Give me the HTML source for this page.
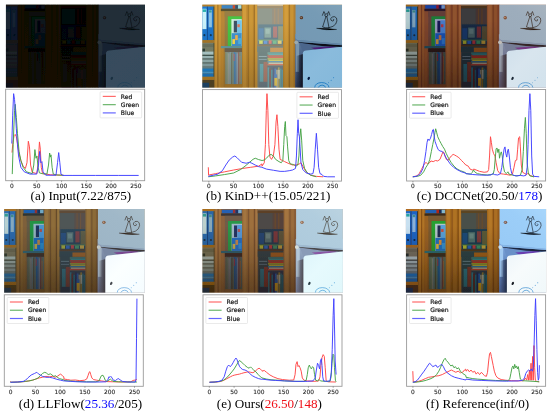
<!DOCTYPE html>
<html><head><meta charset="utf-8"><title>Histogram comparison</title>
<style>
html,body{margin:0;padding:0;background:#fff;}
body{width:550px;height:415px;overflow:hidden;position:relative;}
svg{position:absolute;left:0;top:0;}
.tk{font-family:"DejaVu Sans","Liberation Sans",sans-serif;font-size:5.9px;fill:#262626;stroke:#262626;stroke-width:0.12px;}
.lg{font-family:"DejaVu Sans","Liberation Sans",sans-serif;font-size:6.1px;fill:#202020;stroke:#202020;stroke-width:0.2px;}
.cap{font-family:"Liberation Serif","Times New Roman",serif;font-size:13.15px;fill:#000;}
</style></head><body>
<svg width="550" height="415" viewBox="0 0 550 415">
<defs>
<filter id="soft" x="-2%" y="-2%" width="104%" height="104%"><feGaussianBlur stdDeviation="0.6"/></filter>
<filter id="soft2" x="-5%" y="-5%" width="110%" height="110%"><feGaussianBlur stdDeviation="0.25"/></filter>

<clipPath id="cpa"><rect x="0" y="0" width="140" height="84"/></clipPath>
<clipPath id="cpb"><rect x="0" y="0" width="140" height="84"/></clipPath>
<clipPath id="cpc"><rect x="0" y="0" width="140" height="84"/></clipPath>
<clipPath id="cpd"><rect x="0" y="0" width="140" height="84"/></clipPath>
<clipPath id="cpe"><rect x="0" y="0" width="140" height="84"/></clipPath>
<clipPath id="cpf"><rect x="0" y="0" width="140" height="84"/></clipPath>
</defs>
<g transform="translate(5.8,4.4) scale(0.9943,0.9917)"><g clip-path="url(#cpa)"><g filter="url(#soft)">
<rect x="0" y="0" width="140" height="84" fill="#120b05"/>
<rect x="0" y="0" width="12.4" height="84" fill="#151a21"/>
<rect x="0" y="0" width="12.4" height="2.2" fill="#1a1919"/>
<rect x="0" y="2.2" width="5.2" height="34" fill="#07182e"/>
<rect x="5.6" y="2.2" width="5.8" height="34" fill="#07182e"/>
<rect x="4.7" y="2.2" width="1.0" height="34" fill="#051327"/>
<rect x="11.3" y="2.2" width="1.2" height="34" fill="#0a111a"/>
<rect x="0.2" y="4.4" width="4.0" height="20.5" fill="#1d2833"/>
<rect x="0.4" y="5" width="3.4" height="2.6" fill="#09202a"/>
<rect x="6.5" y="5.6" width="3.2" height="17.5" fill="#152230"/>
<rect x="6.8" y="6" width="2.6" height="2.2" fill="#0b1d28"/>
<circle cx="2.2" cy="31" r="1.05" fill="#05101e"/>
<circle cx="8.6" cy="31" r="1.05" fill="#05101e"/>
<rect x="0" y="36" width="12.4" height="2.8" fill="#191818"/>
<rect x="0" y="38.8" width="12.4" height="9" fill="#131a21"/>
<rect x="0" y="40" width="12.4" height="3" fill="#111820"/>
<rect x="0" y="44.6" width="2.8" height="6" fill="#09111a"/>
<rect x="0" y="47.6" width="11.6" height="3.2" fill="#1a242e"/>
<rect x="0" y="50.8" width="11.6" height="1.2" fill="#0b141e"/>
<rect x="0" y="52" width="11.6" height="2.4" fill="#19222d"/>
<rect x="0" y="54.4" width="11.6" height="1.4" fill="#0f1924"/>
<rect x="0" y="55.8" width="11.6" height="2.6" fill="#17212b"/>
<rect x="0" y="58.4" width="11.6" height="1.4" fill="#0f1924"/>
<rect x="0" y="59.8" width="11.6" height="2.6" fill="#161f2a"/>
<rect x="0" y="62.4" width="11.6" height="2.2" fill="#111b26"/>
<rect x="0" y="64.6" width="11.6" height="3.4" fill="#071a2f"/>
<rect x="0" y="68" width="11.6" height="1.6" fill="#0d1e30"/>
<rect x="0" y="69.6" width="11.6" height="3.4" fill="#07192e"/>
<rect x="0" y="73" width="12.4" height="3.2" fill="#1c1a18"/>
<rect x="0" y="76.2" width="12.4" height="7.8" fill="#0f1318"/>
<rect x="0" y="79" width="7" height="5" fill="#071323"/>
<rect x="11.4" y="38.8" width="1" height="34" fill="#0b1119"/>
<rect x="12.2" y="0" width="6.8" height="84" fill="#120b05"/>
<rect x="13.0" y="0" width="2.2" height="84" fill="#140d06"/>
<rect x="15.2" y="0" width="1.0" height="84" fill="#0e0804"/>
<rect x="16.6" y="0" width="2.2" height="84" fill="#130c06"/>
<rect x="18.7" y="0" width="4.2" height="84" fill="#110a06"/>
<rect x="18.7" y="42" width="2.6" height="42" fill="#120b05"/>
<rect x="22.5" y="0" width="17.3" height="84" fill="#0c0907"/>
<rect x="18.7" y="0" width="21.1" height="0.8" fill="#110a06"/>
<rect x="19.5" y="0.8" width="19.5" height="3.6" fill="#010a18"/>
<rect x="30.5" y="0.8" width="2.6" height="3.6" fill="#130304"/>
<rect x="33.1" y="0.8" width="2.6" height="3.6" fill="#00030b"/>
<rect x="35.8" y="0.8" width="3.2" height="3.6" fill="#0e151b"/>
<rect x="18.7" y="4.4" width="21.1" height="2.4" fill="#040304"/>
<rect x="22.5" y="6.8" width="17.3" height="5.4" fill="#0c0907"/>
<rect x="25.6" y="12" width="14.0" height="30" fill="#021207"/>
<rect x="29.2" y="14.8" width="10.4" height="27.2" fill="#14171b"/>
<rect x="31.6" y="16.5" width="3.2" height="11.8" fill="#01030b"/>
<rect x="34.8" y="16" width="4.8" height="14" fill="#08121d"/>
<rect x="35.2" y="20" width="2.4" height="3" fill="#170809"/>
<rect x="29.5" y="29" width="10" height="13" fill="#010c1a"/>
<rect x="33" y="31" width="2.6" height="5" fill="#191008"/>
<rect x="30.2" y="35" width="2.6" height="5" fill="#1a1508"/>
<rect x="36" y="34" width="3" height="6" fill="#03101c"/>
<rect x="18.7" y="42" width="21.1" height="2.2" fill="#010a0d"/>
<rect x="22.5" y="44.2" width="17.3" height="3.8" fill="#020202"/>
<rect x="23.3" y="48" width="16.6" height="32.5" fill="#06090a"/>
<rect x="23.3" y="48.0" width="1.39" height="32.5" fill="#070a08"/>
<rect x="24.69" y="48.7" width="1.39" height="31.8" fill="#080b09"/>
<rect x="26.080000000000002" y="49.4" width="1.39" height="31.1" fill="#0b0d0d"/>
<rect x="27.47" y="48.0" width="1.39" height="32.5" fill="#070c0d"/>
<rect x="28.86" y="48.7" width="1.39" height="31.8" fill="#050605"/>
<rect x="30.25" y="49.4" width="1.39" height="31.1" fill="#060b0a"/>
<rect x="31.64" y="48.0" width="1.39" height="32.5" fill="#000810"/>
<rect x="33.03" y="48.7" width="1.39" height="31.8" fill="#000811"/>
<rect x="34.42" y="49.4" width="1.39" height="31.1" fill="#090c0f"/>
<rect x="35.81" y="48.0" width="1.39" height="32.5" fill="#090405"/>
<rect x="37.2" y="48.7" width="1.39" height="31.8" fill="#070a07"/>
<rect x="38.59" y="49.4" width="1.39" height="31.1" fill="#050a0a"/>
<rect x="31.5" y="50" width="0.8" height="7" fill="#120204"/>
<rect x="37.4" y="52" width="0.7" height="26" fill="#100804"/>
<rect x="22.5" y="80.5" width="17.3" height="3.5" fill="#110a05"/>
<rect x="39.8" y="0" width="15.4" height="84" fill="#120b05"/>
<rect x="40.8" y="0" width="3.2" height="84" fill="#140d06"/>
<rect x="45.6" y="0" width="1.0" height="84" fill="#0e0804"/>
<rect x="47.2" y="0" width="3.4" height="84" fill="#130c06"/>
<rect x="51.6" y="0" width="1.0" height="84" fill="#0d0703"/>
<rect x="53" y="0" width="2.2" height="84" fill="#140d07"/>
<rect x="55.2" y="0" width="25.8" height="84" fill="#050707"/>
<rect x="55.2" y="0" width="25.8" height="1.6" fill="#0f0d08"/>
<rect x="55.2" y="1.6" width="25.8" height="2.6" fill="#070502"/>
<rect x="56" y="4.2" width="25" height="16" fill="#050707"/>
<rect x="70" y="4.2" width="11" height="16" fill="#060605"/>
<rect x="72" y="4.2" width="1.2" height="16" fill="#090603"/>
<rect x="75.5" y="4.2" width="1.2" height="16" fill="#090603"/>
<rect x="56" y="20.2" width="25" height="21.8" fill="#000408"/>
<rect x="62.3" y="23.3" width="6.6" height="10.2" fill="#060b0b"/>
<rect x="63.4" y="24.6" width="4.2" height="5" fill="#080e0e"/>
<rect x="70.9" y="22.3" width="4.2" height="11.2" fill="#0b0405"/>
<rect x="76" y="22" width="5" height="14" fill="#070805"/>
<rect x="56.5" y="24" width="5" height="11" fill="#00060d"/>
<rect x="56" y="35.4" width="25" height="1.6" fill="#030a07"/>
<rect x="57" y="36.4" width="3.6" height="3.4" fill="#111304"/>
<rect x="61.6" y="36.6" width="3.6" height="3.2" fill="#010914"/>
<rect x="66.5" y="36.2" width="3" height="3.6" fill="#120405"/>
<rect x="70.5" y="36.6" width="4" height="3.2" fill="#030f09"/>
<rect x="75.5" y="36.4" width="4" height="3.4" fill="#131105"/>
<rect x="55.2" y="40.4" width="25.8" height="2" fill="#060402"/>
<rect x="55.2" y="42.4" width="25.8" height="5.6" fill="#010507"/>
<rect x="68" y="43.6" width="13" height="4.4" fill="#100901"/>
<rect x="56" y="48" width="9.4" height="36" fill="#010507"/>
<rect x="56.6" y="52" width="8" height="0.9" fill="#090e10"/>
<rect x="56.6" y="55" width="8" height="0.9" fill="#070d0f"/>
<rect x="57.6" y="60" width="3.8" height="22" fill="#010c0f"/>
<rect x="61.4" y="58" width="4.2" height="24" fill="#0b0404"/>
<rect x="56.5" y="78" width="9" height="6" fill="#000407"/>
<rect x="65.4" y="48" width="15.6" height="14" fill="#050808"/>
<rect x="65.4" y="48.6" width="15.6" height="1.15" fill="#010d0e"/>
<rect x="66.4" y="50.050000000000004" width="14.6" height="1.15" fill="#010e0f"/>
<rect x="65.4" y="51.5" width="15.6" height="1.15" fill="#140302"/>
<rect x="66.4" y="52.95" width="14.6" height="1.15" fill="#130302"/>
<rect x="65.4" y="54.4" width="15.6" height="1.15" fill="#111202"/>
<rect x="66.4" y="55.85" width="14.6" height="1.15" fill="#131304"/>
<rect x="65.4" y="57.3" width="15.6" height="1.15" fill="#010c13"/>
<rect x="66.4" y="58.75" width="14.6" height="1.15" fill="#151511"/>
<rect x="65.4" y="60.2" width="15.6" height="1.15" fill="#140504"/>
<rect x="65.4" y="62" width="15.6" height="22" fill="#010407"/>
<rect x="65.4" y="63.5" width="1.73" height="20.5" fill="#010c0f"/>
<rect x="67.13000000000001" y="64.7" width="1.73" height="19.3" fill="#070203"/>
<rect x="68.86" y="65.9" width="1.73" height="18.1" fill="#000a0e"/>
<rect x="70.59" y="63.5" width="1.73" height="20.5" fill="#000209"/>
<rect x="72.32000000000001" y="64.7" width="1.73" height="19.3" fill="#000813"/>
<rect x="74.05000000000001" y="65.9" width="1.73" height="18.1" fill="#0d0f0e"/>
<rect x="75.78" y="63.5" width="1.73" height="20.5" fill="#0d0c04"/>
<rect x="77.51" y="64.7" width="1.73" height="19.3" fill="#010a0c"/>
<rect x="79.24000000000001" y="65.9" width="1.73" height="18.1" fill="#000a0d"/>
<rect x="72.2" y="74" width="2.8" height="8" fill="#171200"/>
<rect x="72.2" y="70.5" width="2.8" height="3.5" fill="#000813"/>
<rect x="76" y="66" width="1.6" height="9" fill="#111312"/>
<rect x="81" y="0" width="12.8" height="84" fill="#120b05"/>
<rect x="82.2" y="0" width="3.6" height="84" fill="#140d06"/>
<rect x="86.8" y="0" width="1.0" height="84" fill="#0e0804"/>
<rect x="88.4" y="0" width="2.6" height="84" fill="#130c05"/>
<rect x="91.6" y="0" width="2.2" height="84" fill="#100904"/>
<linearGradient id="gavs" x1="0" y1="0" x2="0" y2="1"><stop offset="0" stop-color="#1a0c02" stop-opacity="0"/><stop offset="0.2" stop-color="#1a0c02" stop-opacity="0"/><stop offset="0.6" stop-color="#1a0c02" stop-opacity="0.190"/><stop offset="0.9" stop-color="#1a0c02" stop-opacity="0.400"/><stop offset="1" stop-color="#1a0c02" stop-opacity="0.460"/></linearGradient>
<rect x="0" y="0" width="93.6" height="84" fill="url(#gavs)"/>
<linearGradient id="gact" x1="0" y1="1" x2="1" y2="0"><stop offset="0" stop-color="#202d39"/><stop offset="0.6" stop-color="#212e39"/><stop offset="1" stop-color="#23303a"/></linearGradient>
<linearGradient id="gacs" x1="0" y1="0" x2="0" y2="1"><stop offset="0" stop-color="#1d2936"/><stop offset="0.35" stop-color="#172230"/><stop offset="0.7" stop-color="#141e2b"/><stop offset="1" stop-color="#111825"/></linearGradient>
<linearGradient id="gacd" x1="0" y1="0" x2="1" y2="0.15"><stop offset="0" stop-color="#0b111a" stop-opacity="0"/><stop offset="0.45" stop-color="#0b111a" stop-opacity="0.55"/><stop offset="1" stop-color="#090e17" stop-opacity="1"/></linearGradient>
<rect x="93" y="30" width="47" height="54" fill="url(#gacs)"/>
<rect x="93.6" y="38" width="3.4" height="30" fill="#222d37"/>
<path d="M97,38 L140,41 L140,46 L101,49 Z" fill="#172230"/>
<path d="M109,43.6 L132,41.9 L134,43.4 L113,45.6 Z" fill="#17122b"/>
<path d="M96.5,37.9 L140,41.2 L140,42.9 L120,41.9 L96.5,38.5 Z" fill="#080e15"/>
<path d="M94,52 L101,50 L101,84 L94,84 Z" fill="url(#gacd)"/>
<path d="M93.4,0 L140,0 L140,40 L97,36 Q93.4,35.6 93.4,33 Z" fill="url(#gact)"/>
<path d="M96,35.9 L140,39.9 L140,41.2 L97,38 Z" fill="#1d2935"/>
<circle cx="94.1" cy="38.2" r="1.9" fill="#2a3237"/>
<circle cx="99.3" cy="13.4" r="1.7" fill="#1a1718"/>
<circle cx="99.0" cy="13.2" r="0.7" fill="#2a2a2b"/>
<g fill="none" stroke="#060a0e" stroke-width="0.6" stroke-linecap="round" stroke-linejoin="round"><path d="M120.3,11 L121.8,7.2 L123.2,10 L124.2,9.4 L125.2,10 L126.5,7.2 L127.8,10.8"/><path d="M122.6,10.4 Q122.2,12.2 124.2,12.4 Q126,12.2 125.8,10.4"/><path d="M123.8,12.4 L120.5,22.8 Q123.6,24 126.9,23.5 L124.8,12.4"/><path d="M126.9,23.5 Q131.6,22.6 133.6,19.8 Q135.6,16.4 134.4,13.8 Q132.8,11.6 130.2,12.6 Q128,14 128.8,15.8 Q130,17.4 131.4,16.4 Q132.2,15.4 131.2,14.8"/></g>
<path d="M114.4,24.1 Q124,23.7 134.6,25.3 Q124,26.5 114.4,24.1 Z" fill="#060a0e" stroke="#060a0e" stroke-width="0.3"/>
<linearGradient id="gacl" x1="0" y1="0" x2="1" y2="1"><stop offset="0" stop-color="#364b5d"/><stop offset="0.4" stop-color="#374c5d"/><stop offset="1" stop-color="#364c5d"/></linearGradient>
<path d="M104,46.6 L140,42.7 L140,84 L100.7,84 L100.7,50 Q100.7,47 104,46.6 Z" fill="url(#gacl)"/>
<ellipse cx="106.6" cy="74.6" rx="1.1" ry="1.7" fill="#1a2f41" transform="rotate(28 106.6 74.6)"/>
<g fill="none" stroke="#1f3e58" stroke-width="0.7"><path d="M112.5,84 Q113,79 119.5,78.8 Q126,79 127,84"/><path d="M116,84 Q117,81.4 120,81.4 Q123,81.6 123.6,84"/></g>
<circle cx="131.5" cy="74" r="0.5" fill="#1f3e58"/><circle cx="129" cy="76.5" r="0.5" fill="#1f3e58"/><circle cx="126.5" cy="79" r="0.45" fill="#1f3e58"/>
</g></g></g>
<g transform="translate(202.2,4.4) scale(0.9993,0.9917)"><g clip-path="url(#cpb)"><g filter="url(#soft)">
<rect x="0" y="0" width="140" height="84" fill="#c38e33"/>
<rect x="0" y="0" width="12.4" height="84" fill="#8c886a"/>
<rect x="0" y="0" width="12.4" height="2.2" fill="#b27e2c"/>
<rect x="0" y="2.2" width="5.2" height="34" fill="#1e7ad2"/>
<rect x="5.6" y="2.2" width="5.8" height="34" fill="#1e76ce"/>
<rect x="4.7" y="2.2" width="1.0" height="34" fill="#0e4e9a"/>
<rect x="11.3" y="2.2" width="1.2" height="34" fill="#324238"/>
<rect x="0.2" y="4.4" width="4.0" height="20.5" fill="#caf2fa"/>
<rect x="0.4" y="5" width="3.4" height="2.6" fill="#2ab2ae"/>
<rect x="6.5" y="5.6" width="3.2" height="17.5" fill="#8cc2e2"/>
<rect x="6.8" y="6" width="2.6" height="2.2" fill="#3c9ca2"/>
<circle cx="2.2" cy="31" r="1.05" fill="#123854"/>
<circle cx="8.6" cy="31" r="1.05" fill="#123854"/>
<rect x="0" y="36" width="12.4" height="2.8" fill="#aa7a2a"/>
<rect x="0" y="38.8" width="12.4" height="9" fill="#7a846e"/>
<rect x="0" y="40" width="12.4" height="3" fill="#6c7662"/>
<rect x="0" y="44.6" width="2.8" height="6" fill="#2c423a"/>
<rect x="0" y="47.6" width="11.6" height="3.2" fill="#b2d2d2"/>
<rect x="0" y="50.8" width="11.6" height="1.2" fill="#3c5652"/>
<rect x="0" y="52" width="11.6" height="2.4" fill="#a6c6c6"/>
<rect x="0" y="54.4" width="11.6" height="1.4" fill="#5c7c82"/>
<rect x="0" y="55.8" width="11.6" height="2.6" fill="#9ababa"/>
<rect x="0" y="58.4" width="11.6" height="1.4" fill="#5c7c82"/>
<rect x="0" y="59.8" width="11.6" height="2.6" fill="#8eaeb2"/>
<rect x="0" y="62.4" width="11.6" height="2.2" fill="#6c8e96"/>
<rect x="0" y="64.6" width="11.6" height="3.4" fill="#1e8ada"/>
<rect x="0" y="68" width="11.6" height="1.6" fill="#4caae2"/>
<rect x="0" y="69.6" width="11.6" height="3.4" fill="#1e82d2"/>
<rect x="0" y="73" width="12.4" height="3.2" fill="#c28a2a"/>
<rect x="0" y="76.2" width="12.4" height="7.8" fill="#5c4e2a"/>
<rect x="0" y="79" width="7" height="5" fill="#1e4e7a"/>
<rect x="11.4" y="38.8" width="1" height="34" fill="#3c422e"/>
<rect x="12.2" y="0" width="6.8" height="84" fill="#c38e33"/>
<rect x="13.0" y="0" width="2.2" height="84" fill="#d69f3e"/>
<rect x="15.2" y="0" width="1.0" height="84" fill="#a6772c"/>
<rect x="16.6" y="0" width="2.2" height="84" fill="#ce993a"/>
<rect x="18.7" y="0" width="4.2" height="84" fill="#b88738"/>
<rect x="18.7" y="42" width="2.6" height="42" fill="#c68f34"/>
<rect x="22.5" y="0" width="17.3" height="84" fill="#987f44"/>
<rect x="18.7" y="0" width="21.1" height="0.8" fill="#b8893a"/>
<rect x="19.5" y="0.8" width="19.5" height="3.6" fill="#3e85c4"/>
<rect x="30.5" y="0.8" width="2.6" height="3.6" fill="#ce4d2c"/>
<rect x="33.1" y="0.8" width="2.6" height="3.6" fill="#3a5164"/>
<rect x="35.8" y="0.8" width="3.2" height="3.6" fill="#a6dddc"/>
<rect x="18.7" y="4.4" width="21.1" height="2.4" fill="#585130"/>
<rect x="22.5" y="6.8" width="17.3" height="5.4" fill="#987f44"/>
<rect x="25.6" y="12" width="14.0" height="30" fill="#46c544"/>
<rect x="29.2" y="14.8" width="10.4" height="27.2" fill="#d2ebdc"/>
<rect x="31.6" y="16.5" width="3.2" height="11.8" fill="#3e5164"/>
<rect x="34.8" y="16" width="4.8" height="14" fill="#76c5ec"/>
<rect x="35.2" y="20" width="2.4" height="3" fill="#e67554"/>
<rect x="29.5" y="29" width="10" height="13" fill="#4295d4"/>
<rect x="33" y="31" width="2.6" height="5" fill="#f6b54c"/>
<rect x="30.2" y="35" width="2.6" height="5" fill="#fedd4c"/>
<rect x="36" y="34" width="3" height="6" fill="#52b7e4"/>
<rect x="18.7" y="42" width="21.1" height="2.2" fill="#629da4"/>
<rect x="22.5" y="44.2" width="17.3" height="3.8" fill="#6f6758"/>
<rect x="23.3" y="48" width="16.6" height="32.5" fill="#879691"/>
<rect x="23.3" y="48.0" width="1.39" height="32.5" fill="#8c9d84"/>
<rect x="24.69" y="48.7" width="1.39" height="31.8" fill="#93a48c"/>
<rect x="26.080000000000002" y="49.4" width="1.39" height="31.1" fill="#a8afa8"/>
<rect x="27.47" y="48.0" width="1.39" height="32.5" fill="#8caaa8"/>
<rect x="28.86" y="48.7" width="1.39" height="31.8" fill="#7d846e"/>
<rect x="30.25" y="49.4" width="1.39" height="31.1" fill="#88a18e"/>
<rect x="31.64" y="48.0" width="1.39" height="32.5" fill="#548dbd"/>
<rect x="33.03" y="48.7" width="1.39" height="31.8" fill="#5b91c1"/>
<rect x="34.42" y="49.4" width="1.39" height="31.1" fill="#9aaab6"/>
<rect x="35.81" y="48.0" width="1.39" height="32.5" fill="#9a766e"/>
<rect x="37.2" y="48.7" width="1.39" height="31.8" fill="#8c9a7c"/>
<rect x="38.59" y="49.4" width="1.39" height="31.1" fill="#819b92"/>
<rect x="31.5" y="50" width="0.8" height="7" fill="#d96767"/>
<rect x="37.4" y="52" width="0.7" height="26" fill="#ca9267"/>
<rect x="22.5" y="80.5" width="17.3" height="3.5" fill="#be8932"/>
<rect x="39.8" y="0" width="15.4" height="84" fill="#c38e33"/>
<rect x="40.8" y="0" width="3.2" height="84" fill="#d29d3c"/>
<rect x="45.6" y="0" width="1.0" height="84" fill="#a4752c"/>
<rect x="47.2" y="0" width="3.4" height="84" fill="#cc9738"/>
<rect x="51.6" y="0" width="1.0" height="84" fill="#9a6d26"/>
<rect x="53" y="0" width="2.2" height="84" fill="#d49f40"/>
<rect x="55.2" y="0" width="25.8" height="84" fill="#929a90"/>
<rect x="55.2" y="0" width="25.8" height="1.6" fill="#d4bf97"/>
<rect x="55.2" y="1.6" width="25.8" height="2.6" fill="#a29274"/>
<rect x="56" y="4.2" width="25" height="16" fill="#949c90"/>
<rect x="70" y="4.2" width="11" height="16" fill="#9c9685"/>
<rect x="72" y="4.2" width="1.2" height="16" fill="#ae997a"/>
<rect x="75.5" y="4.2" width="1.2" height="16" fill="#ae997a"/>
<rect x="56" y="20.2" width="25" height="21.8" fill="#718c95"/>
<rect x="62.3" y="23.3" width="6.6" height="10.2" fill="#97b4ac"/>
<rect x="63.4" y="24.6" width="4.2" height="5" fill="#a9c6bc"/>
<rect x="70.9" y="22.3" width="4.2" height="11.2" fill="#ba8a85"/>
<rect x="76" y="22" width="5" height="14" fill="#a1a484"/>
<rect x="56.5" y="24" width="5" height="11" fill="#6f97b7"/>
<rect x="56" y="35.4" width="25" height="1.6" fill="#87b194"/>
<rect x="57" y="36.4" width="3.6" height="3.4" fill="#dfe97d"/>
<rect x="61.6" y="36.6" width="3.6" height="3.2" fill="#7aa9e4"/>
<rect x="66.5" y="36.2" width="3" height="3.6" fill="#e68c87"/>
<rect x="70.5" y="36.6" width="4" height="3.2" fill="#87caa0"/>
<rect x="75.5" y="36.4" width="4" height="3.4" fill="#ecd984"/>
<rect x="55.2" y="40.4" width="25.8" height="2" fill="#978c72"/>
<rect x="55.2" y="42.4" width="25.8" height="5.6" fill="#7c9290"/>
<rect x="68" y="43.6" width="13" height="4.4" fill="#d9a96d"/>
<rect x="56" y="48" width="9.4" height="36" fill="#7c9290"/>
<rect x="56.6" y="52" width="8" height="0.9" fill="#aec9ca"/>
<rect x="56.6" y="55" width="8" height="0.9" fill="#a1bfc4"/>
<rect x="57.6" y="60" width="3.8" height="22" fill="#7abcc4"/>
<rect x="61.4" y="58" width="4.2" height="24" fill="#ba8c7d"/>
<rect x="56.5" y="78" width="9" height="6" fill="#768994"/>
<rect x="65.4" y="48" width="15.6" height="14" fill="#94a497"/>
<rect x="65.4" y="48.6" width="15.6" height="1.15" fill="#7ac2bd"/>
<rect x="66.4" y="50.050000000000004" width="14.6" height="1.15" fill="#7ec6c0"/>
<rect x="65.4" y="51.5" width="15.6" height="1.15" fill="#f28270"/>
<rect x="66.4" y="52.95" width="14.6" height="1.15" fill="#e98674"/>
<rect x="65.4" y="54.4" width="15.6" height="1.15" fill="#dfe270"/>
<rect x="66.4" y="55.85" width="14.6" height="1.15" fill="#ece97d"/>
<rect x="65.4" y="57.3" width="15.6" height="1.15" fill="#7abcdd"/>
<rect x="66.4" y="58.75" width="14.6" height="1.15" fill="#f9efd0"/>
<rect x="65.4" y="60.2" width="15.6" height="1.15" fill="#f28f7d"/>
<rect x="65.4" y="62" width="15.6" height="22" fill="#7c8c94"/>
<rect x="65.4" y="63.5" width="1.73" height="20.5" fill="#7abcc4"/>
<rect x="67.13000000000001" y="64.7" width="1.73" height="19.3" fill="#a17f77"/>
<rect x="68.86" y="65.9" width="1.73" height="18.1" fill="#6fb1bd"/>
<rect x="70.59" y="63.5" width="1.73" height="20.5" fill="#6f7fa0"/>
<rect x="72.32000000000001" y="64.7" width="1.73" height="19.3" fill="#72a2dd"/>
<rect x="74.05000000000001" y="65.9" width="1.73" height="18.1" fill="#c7cfbd"/>
<rect x="75.78" y="63.5" width="1.73" height="20.5" fill="#c7be7d"/>
<rect x="77.51" y="64.7" width="1.73" height="19.3" fill="#7ab1b0"/>
<rect x="79.24000000000001" y="65.9" width="1.73" height="18.1" fill="#6facb7"/>
<rect x="72.2" y="74" width="2.8" height="8" fill="#ffe26a"/>
<rect x="72.2" y="70.5" width="2.8" height="3.5" fill="#72a2dd"/>
<rect x="76" y="66" width="1.6" height="9" fill="#dfe9d7"/>
<rect x="81" y="0" width="12.8" height="84" fill="#c38e33"/>
<rect x="82.2" y="0" width="3.6" height="84" fill="#d39d3c"/>
<rect x="86.8" y="0" width="1.0" height="84" fill="#a4752c"/>
<rect x="88.4" y="0" width="2.6" height="84" fill="#c89336"/>
<rect x="91.6" y="0" width="2.2" height="84" fill="#b27f30"/>
<linearGradient id="gbvs" x1="0" y1="0" x2="0" y2="1"><stop offset="0" stop-color="#1a0c02" stop-opacity="0"/><stop offset="0.2" stop-color="#1a0c02" stop-opacity="0"/><stop offset="0.6" stop-color="#1a0c02" stop-opacity="0.095"/><stop offset="0.9" stop-color="#1a0c02" stop-opacity="0.200"/><stop offset="1" stop-color="#1a0c02" stop-opacity="0.230"/></linearGradient>
<rect x="0" y="0" width="93.6" height="84" fill="url(#gbvs)"/>
<linearGradient id="gbct" x1="0" y1="1" x2="1" y2="0"><stop offset="0" stop-color="#7398b3"/><stop offset="0.6" stop-color="#769bb5"/><stop offset="1" stop-color="#80a2b8"/></linearGradient>
<linearGradient id="gbcs" x1="0" y1="0" x2="0" y2="1"><stop offset="0" stop-color="#6785a7"/><stop offset="0.35" stop-color="#4c668c"/><stop offset="0.7" stop-color="#3e5478"/><stop offset="1" stop-color="#2f3c5d"/></linearGradient>
<linearGradient id="gbcd" x1="0" y1="0" x2="1" y2="0.15"><stop offset="0" stop-color="#171d2d" stop-opacity="0"/><stop offset="0.45" stop-color="#171d2d" stop-opacity="0.55"/><stop offset="1" stop-color="#0d111f" stop-opacity="1"/></linearGradient>
<rect x="93" y="30" width="47" height="54" fill="url(#gbcs)"/>
<rect x="93.6" y="38" width="3.4" height="30" fill="#7996ae"/>
<path d="M97,38 L140,41 L140,46 L101,49 Z" fill="#4c668c"/>
<path d="M109,43.6 L132,41.9 L134,43.4 L113,45.6 Z" fill="#4c1f78"/>
<path d="M96.5,37.9 L140,41.2 L140,42.9 L120,41.9 L96.5,38.5 Z" fill="#090e19"/>
<path d="M94,52 L101,50 L101,84 L94,84 Z" fill="url(#gbcd)"/>
<path d="M93.4,0 L140,0 L140,40 L97,36 Q93.4,35.6 93.4,33 Z" fill="url(#gbct)"/>
<path d="M96,35.9 L140,39.9 L140,41.2 L97,38 Z" fill="#6387a6"/>
<circle cx="94.1" cy="38.2" r="1.9" fill="#9baaae"/>
<circle cx="99.3" cy="13.4" r="1.7" fill="#593826"/>
<circle cx="99.0" cy="13.2" r="0.7" fill="#9b8878"/>
<g fill="none" stroke="#000000" stroke-width="0.6" stroke-linecap="round" stroke-linejoin="round"><path d="M120.3,11 L121.8,7.2 L123.2,10 L124.2,9.4 L125.2,10 L126.5,7.2 L127.8,10.8"/><path d="M122.6,10.4 Q122.2,12.2 124.2,12.4 Q126,12.2 125.8,10.4"/><path d="M123.8,12.4 L120.5,22.8 Q123.6,24 126.9,23.5 L124.8,12.4"/><path d="M126.9,23.5 Q131.6,22.6 133.6,19.8 Q135.6,16.4 134.4,13.8 Q132.8,11.6 130.2,12.6 Q128,14 128.8,15.8 Q130,17.4 131.4,16.4 Q132.2,15.4 131.2,14.8"/></g>
<path d="M114.4,24.1 Q124,23.7 134.6,25.3 Q124,26.5 114.4,24.1 Z" fill="#000000" stroke="#000000" stroke-width="0.3"/>
<linearGradient id="gbcl" x1="0" y1="0" x2="1" y2="1"><stop offset="0" stop-color="#83b6da"/><stop offset="0.4" stop-color="#8abbdc"/><stop offset="1" stop-color="#84b8da"/></linearGradient>
<path d="M104,46.6 L140,42.7 L140,84 L100.7,84 L100.7,50 Q100.7,47 104,46.6 Z" fill="url(#gbcl)"/>
<ellipse cx="106.6" cy="74.6" rx="1.1" ry="1.7" fill="#00143a" transform="rotate(28 106.6 74.6)"/>
<g fill="none" stroke="#0068ba" stroke-width="0.7"><path d="M112.5,84 Q113,79 119.5,78.8 Q126,79 127,84"/><path d="M116,84 Q117,81.4 120,81.4 Q123,81.6 123.6,84"/></g>
<circle cx="131.5" cy="74" r="0.5" fill="#0068ba"/><circle cx="129" cy="76.5" r="0.5" fill="#0068ba"/><circle cx="126.5" cy="79" r="0.45" fill="#0068ba"/>
</g></g></g>
<g transform="translate(405.7,4.4) scale(1.0021,0.9929)"><g clip-path="url(#cpc)"><g filter="url(#soft)">
<rect x="0" y="0" width="140" height="84" fill="#874b29"/>
<rect x="0" y="0" width="12.4" height="84" fill="#7c6e51"/>
<rect x="0" y="0" width="12.4" height="2.2" fill="#9c651d"/>
<rect x="0" y="2.2" width="5.2" height="34" fill="#1e62aa"/>
<rect x="5.6" y="2.2" width="5.8" height="34" fill="#1e5ea6"/>
<rect x="4.7" y="2.2" width="1.0" height="34" fill="#103c7a"/>
<rect x="11.3" y="2.2" width="1.2" height="34" fill="#2f3227"/>
<rect x="0.2" y="4.4" width="4.0" height="20.5" fill="#b0c8cc"/>
<rect x="0.4" y="5" width="3.4" height="2.6" fill="#28918b"/>
<rect x="6.5" y="5.6" width="3.2" height="17.5" fill="#7c9fb7"/>
<rect x="6.8" y="6" width="2.6" height="2.2" fill="#387f81"/>
<circle cx="2.2" cy="31" r="1.05" fill="#142a3f"/>
<circle cx="8.6" cy="31" r="1.05" fill="#142a3f"/>
<rect x="0" y="36" width="12.4" height="2.8" fill="#95621b"/>
<rect x="0" y="38.8" width="12.4" height="9" fill="#6c6a55"/>
<rect x="0" y="40" width="12.4" height="3" fill="#605e4a"/>
<rect x="0" y="44.6" width="2.8" height="6" fill="#2a3228"/>
<rect x="0" y="47.6" width="11.6" height="3.2" fill="#9cacaa"/>
<rect x="0" y="50.8" width="11.6" height="1.2" fill="#38433d"/>
<rect x="0" y="52" width="11.6" height="2.4" fill="#92a2a0"/>
<rect x="0" y="54.4" width="11.6" height="1.4" fill="#536366"/>
<rect x="0" y="55.8" width="11.6" height="2.6" fill="#879895"/>
<rect x="0" y="58.4" width="11.6" height="1.4" fill="#536366"/>
<rect x="0" y="59.8" width="11.6" height="2.6" fill="#7d8e8e"/>
<rect x="0" y="62.4" width="11.6" height="2.2" fill="#607377"/>
<rect x="0" y="64.6" width="11.6" height="3.4" fill="#1e6fb0"/>
<rect x="0" y="68" width="11.6" height="1.6" fill="#458ab7"/>
<rect x="0" y="69.6" width="11.6" height="3.4" fill="#1e68aa"/>
<rect x="0" y="73" width="12.4" height="3.2" fill="#a96f1b"/>
<rect x="0" y="76.2" width="12.4" height="7.8" fill="#533c1b"/>
<rect x="0" y="79" width="7" height="5" fill="#1e3c5f"/>
<rect x="11.4" y="38.8" width="1" height="34" fill="#38321e"/>
<rect x="12.2" y="0" width="6.8" height="84" fill="#874b29"/>
<rect x="13.0" y="0" width="2.2" height="84" fill="#975932"/>
<rect x="15.2" y="0" width="1.0" height="84" fill="#6e3723"/>
<rect x="16.6" y="0" width="2.2" height="84" fill="#90542f"/>
<rect x="18.7" y="0" width="4.2" height="84" fill="#7e452d"/>
<rect x="18.7" y="42" width="2.6" height="42" fill="#8a4c2a"/>
<rect x="22.5" y="0" width="17.3" height="84" fill="#623e38"/>
<rect x="18.7" y="0" width="21.1" height="0.8" fill="#7e472f"/>
<rect x="19.5" y="0.8" width="19.5" height="3.6" fill="#1643a4"/>
<rect x="30.5" y="0.8" width="2.6" height="3.6" fill="#901423"/>
<rect x="33.1" y="0.8" width="2.6" height="3.6" fill="#131753"/>
<rect x="35.8" y="0.8" width="3.2" height="3.6" fill="#6e8eb9"/>
<rect x="18.7" y="4.4" width="21.1" height="2.4" fill="#2c1727"/>
<rect x="22.5" y="6.8" width="17.3" height="5.4" fill="#623e38"/>
<rect x="25.6" y="12" width="14.0" height="30" fill="#1d7a38"/>
<rect x="29.2" y="14.8" width="10.4" height="27.2" fill="#949ab9"/>
<rect x="31.6" y="16.5" width="3.2" height="11.8" fill="#161753"/>
<rect x="34.8" y="16" width="4.8" height="14" fill="#467ac6"/>
<rect x="35.2" y="20" width="2.4" height="3" fill="#a53645"/>
<rect x="29.5" y="29" width="10" height="13" fill="#1951b2"/>
<rect x="33" y="31" width="2.6" height="5" fill="#b26c3e"/>
<rect x="30.2" y="35" width="2.6" height="5" fill="#b98e3e"/>
<rect x="36" y="34" width="3" height="6" fill="#276ec0"/>
<rect x="18.7" y="42" width="21.1" height="2.2" fill="#1b4b5e"/>
<rect x="22.5" y="44.2" width="17.3" height="3.8" fill="#271816"/>
<rect x="23.3" y="48" width="16.6" height="32.5" fill="#3e444c"/>
<rect x="23.3" y="48.0" width="1.39" height="32.5" fill="#424b3f"/>
<rect x="24.69" y="48.7" width="1.39" height="31.8" fill="#495248"/>
<rect x="26.080000000000002" y="49.4" width="1.39" height="31.1" fill="#5d5c61"/>
<rect x="27.47" y="48.0" width="1.39" height="32.5" fill="#425761"/>
<rect x="28.86" y="48.7" width="1.39" height="31.8" fill="#35332b"/>
<rect x="30.25" y="49.4" width="1.39" height="31.1" fill="#3f4e49"/>
<rect x="31.64" y="48.0" width="1.39" height="32.5" fill="#0e3c76"/>
<rect x="33.03" y="48.7" width="1.39" height="31.8" fill="#143f79"/>
<rect x="34.42" y="49.4" width="1.39" height="31.1" fill="#50576f"/>
<rect x="35.81" y="48.0" width="1.39" height="32.5" fill="#50252b"/>
<rect x="37.2" y="48.7" width="1.39" height="31.8" fill="#424738"/>
<rect x="38.59" y="49.4" width="1.39" height="31.1" fill="#38494d"/>
<rect x="31.5" y="50" width="0.8" height="7" fill="#8b1824"/>
<rect x="37.4" y="52" width="0.7" height="26" fill="#7e4124"/>
<rect x="22.5" y="80.5" width="17.3" height="3.5" fill="#834728"/>
<rect x="39.8" y="0" width="15.4" height="84" fill="#874b29"/>
<rect x="40.8" y="0" width="3.2" height="84" fill="#945831"/>
<rect x="45.6" y="0" width="1.0" height="84" fill="#6d3623"/>
<rect x="47.2" y="0" width="3.4" height="84" fill="#8f532d"/>
<rect x="51.6" y="0" width="1.0" height="84" fill="#642f1e"/>
<rect x="53" y="0" width="2.2" height="84" fill="#955934"/>
<rect x="55.2" y="0" width="25.8" height="84" fill="#38383c"/>
<rect x="55.2" y="0" width="25.8" height="1.6" fill="#7e5f43"/>
<rect x="55.2" y="1.6" width="25.8" height="2.6" fill="#49301e"/>
<rect x="56" y="4.2" width="25" height="16" fill="#3a3a3c"/>
<rect x="70" y="4.2" width="11" height="16" fill="#423330"/>
<rect x="72" y="4.2" width="1.2" height="16" fill="#553724"/>
<rect x="75.5" y="4.2" width="1.2" height="16" fill="#553724"/>
<rect x="56" y="20.2" width="25" height="21.8" fill="#152941"/>
<rect x="62.3" y="23.3" width="6.6" height="10.2" fill="#3d5459"/>
<rect x="63.4" y="24.6" width="4.2" height="5" fill="#50666a"/>
<rect x="70.9" y="22.3" width="4.2" height="11.2" fill="#632730"/>
<rect x="76" y="22" width="5" height="14" fill="#48422f"/>
<rect x="56.5" y="24" width="5" height="11" fill="#133565"/>
<rect x="56" y="35.4" width="25" height="1.6" fill="#2c5040"/>
<rect x="57" y="36.4" width="3.6" height="3.4" fill="#8a8c28"/>
<rect x="61.6" y="36.6" width="3.6" height="3.2" fill="#1f4895"/>
<rect x="66.5" y="36.2" width="3" height="3.6" fill="#912932"/>
<rect x="70.5" y="36.6" width="4" height="3.2" fill="#2c6b4d"/>
<rect x="75.5" y="36.4" width="4" height="3.4" fill="#987b2f"/>
<rect x="55.2" y="40.4" width="25.8" height="2" fill="#3d291c"/>
<rect x="55.2" y="42.4" width="25.8" height="5.6" fill="#20303c"/>
<rect x="68" y="43.6" width="13" height="4.4" fill="#834817"/>
<rect x="56" y="48" width="9.4" height="36" fill="#20303c"/>
<rect x="56.6" y="52" width="8" height="0.9" fill="#556a7a"/>
<rect x="56.6" y="55" width="8" height="0.9" fill="#485f73"/>
<rect x="57.6" y="60" width="3.8" height="22" fill="#1f5c73"/>
<rect x="61.4" y="58" width="4.2" height="24" fill="#632928"/>
<rect x="56.5" y="78" width="9" height="6" fill="#1a2640"/>
<rect x="65.4" y="48" width="15.6" height="14" fill="#3a4243"/>
<rect x="65.4" y="48.6" width="15.6" height="1.15" fill="#1f636c"/>
<rect x="66.4" y="50.050000000000004" width="14.6" height="1.15" fill="#22666f"/>
<rect x="65.4" y="51.5" width="15.6" height="1.15" fill="#9e1f1a"/>
<rect x="66.4" y="52.95" width="14.6" height="1.15" fill="#94221e"/>
<rect x="65.4" y="54.4" width="15.6" height="1.15" fill="#8a851a"/>
<rect x="66.4" y="55.85" width="14.6" height="1.15" fill="#988c28"/>
<rect x="65.4" y="57.3" width="15.6" height="1.15" fill="#1f5c8e"/>
<rect x="66.4" y="58.75" width="14.6" height="1.15" fill="#a59280"/>
<rect x="65.4" y="60.2" width="15.6" height="1.15" fill="#9e2c28"/>
<rect x="65.4" y="62" width="15.6" height="22" fill="#202940"/>
<rect x="65.4" y="63.5" width="1.73" height="20.5" fill="#1f5c73"/>
<rect x="67.13000000000001" y="64.7" width="1.73" height="19.3" fill="#481b21"/>
<rect x="68.86" y="65.9" width="1.73" height="18.1" fill="#13506c"/>
<rect x="70.59" y="63.5" width="1.73" height="20.5" fill="#131b4d"/>
<rect x="72.32000000000001" y="64.7" width="1.73" height="19.3" fill="#16418e"/>
<rect x="74.05000000000001" y="65.9" width="1.73" height="18.1" fill="#70706c"/>
<rect x="75.78" y="63.5" width="1.73" height="20.5" fill="#705e28"/>
<rect x="77.51" y="64.7" width="1.73" height="19.3" fill="#1f505e"/>
<rect x="79.24000000000001" y="65.9" width="1.73" height="18.1" fill="#134b65"/>
<rect x="72.2" y="74" width="2.8" height="8" fill="#b38514"/>
<rect x="72.2" y="70.5" width="2.8" height="3.5" fill="#16418e"/>
<rect x="76" y="66" width="1.6" height="9" fill="#8a8c87"/>
<rect x="81" y="0" width="12.8" height="84" fill="#874b29"/>
<rect x="82.2" y="0" width="3.6" height="84" fill="#955831"/>
<rect x="86.8" y="0" width="1.0" height="84" fill="#6d3623"/>
<rect x="88.4" y="0" width="2.6" height="84" fill="#8b4f2c"/>
<rect x="91.6" y="0" width="2.2" height="84" fill="#793e27"/>
<linearGradient id="gcvs" x1="0" y1="0" x2="0" y2="1"><stop offset="0" stop-color="#1a0c02" stop-opacity="0"/><stop offset="0.2" stop-color="#1a0c02" stop-opacity="0"/><stop offset="0.6" stop-color="#1a0c02" stop-opacity="0.190"/><stop offset="0.9" stop-color="#1a0c02" stop-opacity="0.400"/><stop offset="1" stop-color="#1a0c02" stop-opacity="0.460"/></linearGradient>
<rect x="0" y="0" width="93.6" height="84" fill="url(#gcvs)"/>
<linearGradient id="gcct" x1="0" y1="1" x2="1" y2="0"><stop offset="0" stop-color="#9aaaba"/><stop offset="0.6" stop-color="#9dadbc"/><stop offset="1" stop-color="#a7b3be"/></linearGradient>
<linearGradient id="gccs" x1="0" y1="0" x2="0" y2="1"><stop offset="0" stop-color="#8e98af"/><stop offset="0.35" stop-color="#757b95"/><stop offset="0.7" stop-color="#686982"/><stop offset="1" stop-color="#595368"/></linearGradient>
<linearGradient id="gccd" x1="0" y1="0" x2="1" y2="0.15"><stop offset="0" stop-color="#43353b" stop-opacity="0"/><stop offset="0.45" stop-color="#43353b" stop-opacity="0.55"/><stop offset="1" stop-color="#392a2e" stop-opacity="1"/></linearGradient>
<rect x="93" y="30" width="47" height="54" fill="url(#gccs)"/>
<rect x="93.6" y="38" width="3.4" height="30" fill="#a0a8b6"/>
<path d="M97,38 L140,41 L140,46 L101,49 Z" fill="#757b95"/>
<path d="M109,43.6 L132,41.9 L134,43.4 L113,45.6 Z" fill="#753782"/>
<path d="M96.5,37.9 L140,41.2 L140,42.9 L120,41.9 L96.5,38.5 Z" fill="#362727"/>
<path d="M94,52 L101,50 L101,84 L94,84 Z" fill="url(#gccd)"/>
<path d="M93.4,0 L140,0 L140,40 L97,36 Q93.4,35.6 93.4,33 Z" fill="url(#gcct)"/>
<path d="M96,35.9 L140,39.9 L140,41.2 L97,38 Z" fill="#8b9aad"/>
<circle cx="94.1" cy="38.2" r="1.9" fill="#c1bcb6"/>
<circle cx="99.3" cy="13.4" r="1.7" fill="#824f34"/>
<circle cx="99.0" cy="13.2" r="0.7" fill="#c19b82"/>
<g fill="none" stroke="#2c170a" stroke-width="0.6" stroke-linecap="round" stroke-linejoin="round"><path d="M120.3,11 L121.8,7.2 L123.2,10 L124.2,9.4 L125.2,10 L126.5,7.2 L127.8,10.8"/><path d="M122.6,10.4 Q122.2,12.2 124.2,12.4 Q126,12.2 125.8,10.4"/><path d="M123.8,12.4 L120.5,22.8 Q123.6,24 126.9,23.5 L124.8,12.4"/><path d="M126.9,23.5 Q131.6,22.6 133.6,19.8 Q135.6,16.4 134.4,13.8 Q132.8,11.6 130.2,12.6 Q128,14 128.8,15.8 Q130,17.4 131.4,16.4 Q132.2,15.4 131.2,14.8"/></g>
<path d="M114.4,24.1 Q124,23.7 134.6,25.3 Q124,26.5 114.4,24.1 Z" fill="#2c170a" stroke="#2c170a" stroke-width="0.3"/>
<linearGradient id="gccl" x1="0" y1="0" x2="1" y2="1"><stop offset="0" stop-color="#d0e0ec"/><stop offset="0.4" stop-color="#d8e5ee"/><stop offset="1" stop-color="#d2e2ec"/></linearGradient>
<path d="M104,46.6 L140,42.7 L140,84 L100.7,84 L100.7,50 Q100.7,47 104,46.6 Z" fill="url(#gccl)"/>
<ellipse cx="106.6" cy="74.6" rx="1.1" ry="1.7" fill="#1a2736" transform="rotate(28 106.6 74.6)"/>
<g fill="none" stroke="#3786c8" stroke-width="0.7"><path d="M112.5,84 Q113,79 119.5,78.8 Q126,79 127,84"/><path d="M116,84 Q117,81.4 120,81.4 Q123,81.6 123.6,84"/></g>
<circle cx="131.5" cy="74" r="0.5" fill="#3786c8"/><circle cx="129" cy="76.5" r="0.5" fill="#3786c8"/><circle cx="126.5" cy="79" r="0.45" fill="#3786c8"/>
</g></g></g>
<g transform="translate(4.1,209.0) scale(1.0050,0.9976)"><g clip-path="url(#cpd)"><g filter="url(#soft)">
<rect x="0" y="0" width="140" height="84" fill="#876636"/>
<rect x="0" y="0" width="12.4" height="84" fill="#84795c"/>
<rect x="0" y="0" width="12.4" height="2.2" fill="#a3712a"/>
<rect x="0" y="2.2" width="5.2" height="34" fill="#2a6eb2"/>
<rect x="5.6" y="2.2" width="5.8" height="34" fill="#2a6aae"/>
<rect x="4.7" y="2.2" width="1.0" height="34" fill="#1d4a84"/>
<rect x="11.3" y="2.2" width="1.2" height="34" fill="#3a4033"/>
<rect x="0.2" y="4.4" width="4.0" height="20.5" fill="#b7d0d2"/>
<rect x="0.4" y="5" width="3.4" height="2.6" fill="#349c94"/>
<rect x="6.5" y="5.6" width="3.2" height="17.5" fill="#84a9bf"/>
<rect x="6.8" y="6" width="2.6" height="2.2" fill="#438a8a"/>
<circle cx="2.2" cy="31" r="1.05" fill="#20384a"/>
<circle cx="8.6" cy="31" r="1.05" fill="#20384a"/>
<rect x="0" y="36" width="12.4" height="2.8" fill="#9d6e28"/>
<rect x="0" y="38.8" width="12.4" height="9" fill="#757660"/>
<rect x="0" y="40" width="12.4" height="3" fill="#6a6a56"/>
<rect x="0" y="44.6" width="2.8" height="6" fill="#354035"/>
<rect x="0" y="47.6" width="11.6" height="3.2" fill="#a3b6b2"/>
<rect x="0" y="50.8" width="11.6" height="1.2" fill="#435049"/>
<rect x="0" y="52" width="11.6" height="2.4" fill="#9aaca8"/>
<rect x="0" y="54.4" width="11.6" height="1.4" fill="#5d6f70"/>
<rect x="0" y="55.8" width="11.6" height="2.6" fill="#90a29e"/>
<rect x="0" y="58.4" width="11.6" height="1.4" fill="#5d6f70"/>
<rect x="0" y="59.8" width="11.6" height="2.6" fill="#869897"/>
<rect x="0" y="62.4" width="11.6" height="2.2" fill="#6a7e80"/>
<rect x="0" y="64.6" width="11.6" height="3.4" fill="#2a7bb8"/>
<rect x="0" y="68" width="11.6" height="1.6" fill="#5095bf"/>
<rect x="0" y="69.6" width="11.6" height="3.4" fill="#2a74b2"/>
<rect x="0" y="73" width="12.4" height="3.2" fill="#b07b28"/>
<rect x="0" y="76.2" width="12.4" height="7.8" fill="#5d4a28"/>
<rect x="0" y="79" width="7" height="5" fill="#2a4a69"/>
<rect x="11.4" y="38.8" width="1" height="34" fill="#43402b"/>
<rect x="12.2" y="0" width="6.8" height="84" fill="#876636"/>
<rect x="13.0" y="0" width="2.2" height="84" fill="#97743f"/>
<rect x="15.2" y="0" width="1.0" height="84" fill="#6f5330"/>
<rect x="16.6" y="0" width="2.2" height="84" fill="#906f3c"/>
<rect x="18.7" y="0" width="4.2" height="84" fill="#7e603a"/>
<rect x="18.7" y="42" width="2.6" height="42" fill="#896737"/>
<rect x="22.5" y="0" width="17.3" height="84" fill="#645a44"/>
<rect x="18.7" y="0" width="21.1" height="0.8" fill="#7e623c"/>
<rect x="19.5" y="0.8" width="19.5" height="3.6" fill="#1a5fad"/>
<rect x="30.5" y="0.8" width="2.6" height="3.6" fill="#903130"/>
<rect x="33.1" y="0.8" width="2.6" height="3.6" fill="#17345e"/>
<rect x="35.8" y="0.8" width="3.2" height="3.6" fill="#6fa7c1"/>
<rect x="18.7" y="4.4" width="21.1" height="2.4" fill="#2f3434"/>
<rect x="22.5" y="6.8" width="17.3" height="5.4" fill="#645a44"/>
<rect x="25.6" y="12" width="14.0" height="30" fill="#209344"/>
<rect x="29.2" y="14.8" width="10.4" height="27.2" fill="#93b2c1"/>
<rect x="31.6" y="16.5" width="3.2" height="11.8" fill="#1a345e"/>
<rect x="34.8" y="16" width="4.8" height="14" fill="#4893ce"/>
<rect x="35.2" y="20" width="2.4" height="3" fill="#a45251"/>
<rect x="29.5" y="29" width="10" height="13" fill="#1d6cba"/>
<rect x="33" y="31" width="2.6" height="5" fill="#b1864b"/>
<rect x="30.2" y="35" width="2.6" height="5" fill="#b7a74b"/>
<rect x="36" y="34" width="3" height="6" fill="#2a88c7"/>
<rect x="18.7" y="42" width="21.1" height="2.2" fill="#336675"/>
<rect x="22.5" y="44.2" width="17.3" height="3.8" fill="#3f3430"/>
<rect x="23.3" y="48" width="16.6" height="32.5" fill="#555f64"/>
<rect x="23.3" y="48.0" width="1.39" height="32.5" fill="#596658"/>
<rect x="24.69" y="48.7" width="1.39" height="31.8" fill="#606c60"/>
<rect x="26.080000000000002" y="49.4" width="1.39" height="31.1" fill="#737678"/>
<rect x="27.47" y="48.0" width="1.39" height="32.5" fill="#597178"/>
<rect x="28.86" y="48.7" width="1.39" height="31.8" fill="#4c4f44"/>
<rect x="30.25" y="49.4" width="1.39" height="31.1" fill="#566962"/>
<rect x="31.64" y="48.0" width="1.39" height="32.5" fill="#26578c"/>
<rect x="33.03" y="48.7" width="1.39" height="31.8" fill="#2d5a8f"/>
<rect x="34.42" y="49.4" width="1.39" height="31.1" fill="#667186"/>
<rect x="35.81" y="48.0" width="1.39" height="32.5" fill="#664144"/>
<rect x="37.2" y="48.7" width="1.39" height="31.8" fill="#596251"/>
<rect x="38.59" y="49.4" width="1.39" height="31.1" fill="#4f6465"/>
<rect x="31.5" y="50" width="0.8" height="7" fill="#a0343d"/>
<rect x="37.4" y="52" width="0.7" height="26" fill="#925c3d"/>
<rect x="22.5" y="80.5" width="17.3" height="3.5" fill="#836235"/>
<rect x="39.8" y="0" width="15.4" height="84" fill="#876636"/>
<rect x="40.8" y="0" width="3.2" height="84" fill="#93723e"/>
<rect x="45.6" y="0" width="1.0" height="84" fill="#6e5230"/>
<rect x="47.2" y="0" width="3.4" height="84" fill="#8e6d3a"/>
<rect x="51.6" y="0" width="1.0" height="84" fill="#654b2c"/>
<rect x="53" y="0" width="2.2" height="84" fill="#957441"/>
<rect x="55.2" y="0" width="25.8" height="84" fill="#4e5456"/>
<rect x="55.2" y="0" width="25.8" height="1.6" fill="#927a5d"/>
<rect x="55.2" y="1.6" width="25.8" height="2.6" fill="#5f4c39"/>
<rect x="56" y="4.2" width="25" height="16" fill="#505656"/>
<rect x="70" y="4.2" width="11" height="16" fill="#584f4b"/>
<rect x="72" y="4.2" width="1.2" height="16" fill="#6a533f"/>
<rect x="75.5" y="4.2" width="1.2" height="16" fill="#6a533f"/>
<rect x="56" y="20.2" width="25" height="21.8" fill="#2c465b"/>
<rect x="62.3" y="23.3" width="6.6" height="10.2" fill="#536f72"/>
<rect x="63.4" y="24.6" width="4.2" height="5" fill="#658183"/>
<rect x="70.9" y="22.3" width="4.2" height="11.2" fill="#77444b"/>
<rect x="76" y="22" width="5" height="14" fill="#5d5e49"/>
<rect x="56.5" y="24" width="5" height="11" fill="#2a517e"/>
<rect x="56" y="35.4" width="25" height="1.6" fill="#436b5a"/>
<rect x="57" y="36.4" width="3.6" height="3.4" fill="#9da543"/>
<rect x="61.6" y="36.6" width="3.6" height="3.2" fill="#3663ac"/>
<rect x="66.5" y="36.2" width="3" height="3.6" fill="#a4464d"/>
<rect x="70.5" y="36.6" width="4" height="3.2" fill="#438667"/>
<rect x="75.5" y="36.4" width="4" height="3.4" fill="#aa9449"/>
<rect x="55.2" y="40.4" width="25.8" height="2" fill="#534637"/>
<rect x="55.2" y="42.4" width="25.8" height="5.6" fill="#374c56"/>
<rect x="68" y="43.6" width="13" height="4.4" fill="#976332"/>
<rect x="56" y="48" width="9.4" height="36" fill="#374c56"/>
<rect x="56.6" y="52" width="8" height="0.9" fill="#6a8491"/>
<rect x="56.6" y="55" width="8" height="0.9" fill="#5d7a8b"/>
<rect x="57.6" y="60" width="3.8" height="22" fill="#36778b"/>
<rect x="61.4" y="58" width="4.2" height="24" fill="#774643"/>
<rect x="56.5" y="78" width="9" height="6" fill="#31425a"/>
<rect x="65.4" y="48" width="15.6" height="14" fill="#505e5d"/>
<rect x="65.4" y="48.6" width="15.6" height="1.15" fill="#367d84"/>
<rect x="66.4" y="50.050000000000004" width="14.6" height="1.15" fill="#398188"/>
<rect x="65.4" y="51.5" width="15.6" height="1.15" fill="#b13c36"/>
<rect x="66.4" y="52.95" width="14.6" height="1.15" fill="#a73f39"/>
<rect x="65.4" y="54.4" width="15.6" height="1.15" fill="#9d9e36"/>
<rect x="66.4" y="55.85" width="14.6" height="1.15" fill="#aaa543"/>
<rect x="65.4" y="57.3" width="15.6" height="1.15" fill="#3677a5"/>
<rect x="66.4" y="58.75" width="14.6" height="1.15" fill="#b7ab98"/>
<rect x="65.4" y="60.2" width="15.6" height="1.15" fill="#b14943"/>
<rect x="65.4" y="62" width="15.6" height="22" fill="#37465a"/>
<rect x="65.4" y="63.5" width="1.73" height="20.5" fill="#36778b"/>
<rect x="67.13000000000001" y="64.7" width="1.73" height="19.3" fill="#5d383c"/>
<rect x="68.86" y="65.9" width="1.73" height="18.1" fill="#2a6b84"/>
<rect x="70.59" y="63.5" width="1.73" height="20.5" fill="#2a3867"/>
<rect x="72.32000000000001" y="64.7" width="1.73" height="19.3" fill="#2e5da5"/>
<rect x="74.05000000000001" y="65.9" width="1.73" height="18.1" fill="#848a84"/>
<rect x="75.78" y="63.5" width="1.73" height="20.5" fill="#847843"/>
<rect x="77.51" y="64.7" width="1.73" height="19.3" fill="#366b77"/>
<rect x="79.24000000000001" y="65.9" width="1.73" height="18.1" fill="#2a667e"/>
<rect x="72.2" y="74" width="2.8" height="8" fill="#c49e2f"/>
<rect x="72.2" y="70.5" width="2.8" height="3.5" fill="#2e5da5"/>
<rect x="76" y="66" width="1.6" height="9" fill="#9da59f"/>
<rect x="81" y="0" width="12.8" height="84" fill="#876636"/>
<rect x="82.2" y="0" width="3.6" height="84" fill="#94723e"/>
<rect x="86.8" y="0" width="1.0" height="84" fill="#6e5230"/>
<rect x="88.4" y="0" width="2.6" height="84" fill="#8b6a39"/>
<rect x="91.6" y="0" width="2.2" height="84" fill="#795a34"/>
<linearGradient id="gdvs" x1="0" y1="0" x2="0" y2="1"><stop offset="0" stop-color="#1a0c02" stop-opacity="0"/><stop offset="0.2" stop-color="#1a0c02" stop-opacity="0"/><stop offset="0.6" stop-color="#1a0c02" stop-opacity="0.190"/><stop offset="0.9" stop-color="#1a0c02" stop-opacity="0.400"/><stop offset="1" stop-color="#1a0c02" stop-opacity="0.460"/></linearGradient>
<rect x="0" y="0" width="93.6" height="84" fill="url(#gdvs)"/>
<linearGradient id="gdct" x1="0" y1="1" x2="1" y2="0"><stop offset="0" stop-color="#9db5c6"/><stop offset="0.6" stop-color="#a0b8c8"/><stop offset="1" stop-color="#a9beca"/></linearGradient>
<linearGradient id="gdcs" x1="0" y1="0" x2="0" y2="1"><stop offset="0" stop-color="#92a4bc"/><stop offset="0.35" stop-color="#7988a3"/><stop offset="0.7" stop-color="#6d7790"/><stop offset="1" stop-color="#5f6177"/></linearGradient>
<linearGradient id="gdcd" x1="0" y1="0" x2="1" y2="0.15"><stop offset="0" stop-color="#49454b" stop-opacity="0"/><stop offset="0.45" stop-color="#49454b" stop-opacity="0.55"/><stop offset="1" stop-color="#3f3a3f" stop-opacity="1"/></linearGradient>
<rect x="93" y="30" width="47" height="54" fill="url(#gdcs)"/>
<rect x="93.6" y="38" width="3.4" height="30" fill="#a3b3c2"/>
<path d="M97,38 L140,41 L140,46 L101,49 Z" fill="#7988a3"/>
<path d="M109,43.6 L132,41.9 L134,43.4 L113,45.6 Z" fill="#794690"/>
<path d="M96.5,37.9 L140,41.2 L140,42.9 L120,41.9 L96.5,38.5 Z" fill="#3c3739"/>
<path d="M94,52 L101,50 L101,84 L94,84 Z" fill="url(#gdcd)"/>
<path d="M93.4,0 L140,0 L140,40 L97,36 Q93.4,35.6 93.4,33 Z" fill="url(#gdct)"/>
<path d="M96,35.9 L140,39.9 L140,41.2 L97,38 Z" fill="#8fa5ba"/>
<circle cx="94.1" cy="38.2" r="1.9" fill="#c2c6c2"/>
<circle cx="99.3" cy="13.4" r="1.7" fill="#865e45"/>
<circle cx="99.0" cy="13.2" r="0.7" fill="#c2a790"/>
<g fill="none" stroke="#33271d" stroke-width="0.6" stroke-linecap="round" stroke-linejoin="round"><path d="M120.3,11 L121.8,7.2 L123.2,10 L124.2,9.4 L125.2,10 L126.5,7.2 L127.8,10.8"/><path d="M122.6,10.4 Q122.2,12.2 124.2,12.4 Q126,12.2 125.8,10.4"/><path d="M123.8,12.4 L120.5,22.8 Q123.6,24 126.9,23.5 L124.8,12.4"/><path d="M126.9,23.5 Q131.6,22.6 133.6,19.8 Q135.6,16.4 134.4,13.8 Q132.8,11.6 130.2,12.6 Q128,14 128.8,15.8 Q130,17.4 131.4,16.4 Q132.2,15.4 131.2,14.8"/></g>
<path d="M114.4,24.1 Q124,23.7 134.6,25.3 Q124,26.5 114.4,24.1 Z" fill="#33271d" stroke="#33271d" stroke-width="0.3"/>
<linearGradient id="gdcl" x1="0" y1="0" x2="1" y2="1"><stop offset="0" stop-color="#f3faff"/><stop offset="0.4" stop-color="#fbffff"/><stop offset="1" stop-color="#f5fcff"/></linearGradient>
<path d="M104,46.6 L140,42.7 L140,84 L100.7,84 L100.7,50 Q100.7,47 104,46.6 Z" fill="url(#gdcl)"/>
<ellipse cx="106.6" cy="74.6" rx="1.1" ry="1.7" fill="#444850" transform="rotate(28 106.6 74.6)"/>
<g fill="none" stroke="#60a4dd" stroke-width="0.7"><path d="M112.5,84 Q113,79 119.5,78.8 Q126,79 127,84"/><path d="M116,84 Q117,81.4 120,81.4 Q123,81.6 123.6,84"/></g>
<circle cx="131.5" cy="74" r="0.5" fill="#60a4dd"/><circle cx="129" cy="76.5" r="0.5" fill="#60a4dd"/><circle cx="126.5" cy="79" r="0.45" fill="#60a4dd"/>
</g></g></g>
<g transform="translate(202.3,209.0) scale(1.0043,0.9976)"><g clip-path="url(#cpe)"><g filter="url(#soft)">
<rect x="0" y="0" width="140" height="84" fill="#966839"/>
<rect x="0" y="0" width="12.4" height="84" fill="#887651"/>
<rect x="0" y="0" width="12.4" height="2.2" fill="#a86d1d"/>
<rect x="0" y="2.2" width="5.2" height="34" fill="#2a6aaa"/>
<rect x="5.6" y="2.2" width="5.8" height="34" fill="#2a66a6"/>
<rect x="4.7" y="2.2" width="1.0" height="34" fill="#1c447a"/>
<rect x="11.3" y="2.2" width="1.2" height="34" fill="#3b3a27"/>
<rect x="0.2" y="4.4" width="4.0" height="20.5" fill="#bcd0cc"/>
<rect x="0.4" y="5" width="3.4" height="2.6" fill="#34998b"/>
<rect x="6.5" y="5.6" width="3.2" height="17.5" fill="#88a7b7"/>
<rect x="6.8" y="6" width="2.6" height="2.2" fill="#448781"/>
<circle cx="2.2" cy="31" r="1.05" fill="#20323f"/>
<circle cx="8.6" cy="31" r="1.05" fill="#20323f"/>
<rect x="0" y="36" width="12.4" height="2.8" fill="#a16a1b"/>
<rect x="0" y="38.8" width="12.4" height="9" fill="#787255"/>
<rect x="0" y="40" width="12.4" height="3" fill="#6c664a"/>
<rect x="0" y="44.6" width="2.8" height="6" fill="#363a28"/>
<rect x="0" y="47.6" width="11.6" height="3.2" fill="#a8b4aa"/>
<rect x="0" y="50.8" width="11.6" height="1.2" fill="#444b3d"/>
<rect x="0" y="52" width="11.6" height="2.4" fill="#9eaaa0"/>
<rect x="0" y="54.4" width="11.6" height="1.4" fill="#5f6b66"/>
<rect x="0" y="55.8" width="11.6" height="2.6" fill="#93a095"/>
<rect x="0" y="58.4" width="11.6" height="1.4" fill="#5f6b66"/>
<rect x="0" y="59.8" width="11.6" height="2.6" fill="#89968e"/>
<rect x="0" y="62.4" width="11.6" height="2.2" fill="#6c7b77"/>
<rect x="0" y="64.6" width="11.6" height="3.4" fill="#2a77b0"/>
<rect x="0" y="68" width="11.6" height="1.6" fill="#5192b7"/>
<rect x="0" y="69.6" width="11.6" height="3.4" fill="#2a70aa"/>
<rect x="0" y="73" width="12.4" height="3.2" fill="#b5771b"/>
<rect x="0" y="76.2" width="12.4" height="7.8" fill="#5f441b"/>
<rect x="0" y="79" width="7" height="5" fill="#2a445f"/>
<rect x="11.4" y="38.8" width="1" height="34" fill="#443a1e"/>
<rect x="12.2" y="0" width="6.8" height="84" fill="#966839"/>
<rect x="13.0" y="0" width="2.2" height="84" fill="#a67642"/>
<rect x="15.2" y="0" width="1.0" height="84" fill="#7d5433"/>
<rect x="16.6" y="0" width="2.2" height="84" fill="#9f713f"/>
<rect x="18.7" y="0" width="4.2" height="84" fill="#8d623d"/>
<rect x="18.7" y="42" width="2.6" height="42" fill="#99693a"/>
<rect x="22.5" y="0" width="17.3" height="84" fill="#715b48"/>
<rect x="18.7" y="0" width="21.1" height="0.8" fill="#8d643f"/>
<rect x="19.5" y="0.8" width="19.5" height="3.6" fill="#2560b4"/>
<rect x="30.5" y="0.8" width="2.6" height="3.6" fill="#9f3133"/>
<rect x="33.1" y="0.8" width="2.6" height="3.6" fill="#223463"/>
<rect x="35.8" y="0.8" width="3.2" height="3.6" fill="#7dabc9"/>
<rect x="18.7" y="4.4" width="21.1" height="2.4" fill="#3b3437"/>
<rect x="22.5" y="6.8" width="17.3" height="5.4" fill="#715b48"/>
<rect x="25.6" y="12" width="14.0" height="30" fill="#2c9748"/>
<rect x="29.2" y="14.8" width="10.4" height="27.2" fill="#a3b7c9"/>
<rect x="31.6" y="16.5" width="3.2" height="11.8" fill="#253463"/>
<rect x="34.8" y="16" width="4.8" height="14" fill="#5597d6"/>
<rect x="35.2" y="20" width="2.4" height="3" fill="#b45355"/>
<rect x="29.5" y="29" width="10" height="13" fill="#286ec2"/>
<rect x="33" y="31" width="2.6" height="5" fill="#c1894e"/>
<rect x="30.2" y="35" width="2.6" height="5" fill="#c8ab4e"/>
<rect x="36" y="34" width="3" height="6" fill="#368bd0"/>
<rect x="18.7" y="42" width="21.1" height="2.2" fill="#315f6e"/>
<rect x="22.5" y="44.2" width="17.3" height="3.8" fill="#3d2c26"/>
<rect x="23.3" y="48" width="16.6" height="32.5" fill="#54585c"/>
<rect x="23.3" y="48.0" width="1.39" height="32.5" fill="#585f4f"/>
<rect x="24.69" y="48.7" width="1.39" height="31.8" fill="#5f6658"/>
<rect x="26.080000000000002" y="49.4" width="1.39" height="31.1" fill="#737071"/>
<rect x="27.47" y="48.0" width="1.39" height="32.5" fill="#586b71"/>
<rect x="28.86" y="48.7" width="1.39" height="31.8" fill="#4b473b"/>
<rect x="30.25" y="49.4" width="1.39" height="31.1" fill="#556259"/>
<rect x="31.64" y="48.0" width="1.39" height="32.5" fill="#245086"/>
<rect x="33.03" y="48.7" width="1.39" height="31.8" fill="#2a5389"/>
<rect x="34.42" y="49.4" width="1.39" height="31.1" fill="#666b7f"/>
<rect x="35.81" y="48.0" width="1.39" height="32.5" fill="#66393b"/>
<rect x="37.2" y="48.7" width="1.39" height="31.8" fill="#585b48"/>
<rect x="38.59" y="49.4" width="1.39" height="31.1" fill="#4e5d5d"/>
<rect x="31.5" y="50" width="0.8" height="7" fill="#a12c34"/>
<rect x="37.4" y="52" width="0.7" height="26" fill="#945534"/>
<rect x="22.5" y="80.5" width="17.3" height="3.5" fill="#926438"/>
<rect x="39.8" y="0" width="15.4" height="84" fill="#966839"/>
<rect x="40.8" y="0" width="3.2" height="84" fill="#a37541"/>
<rect x="45.6" y="0" width="1.0" height="84" fill="#7c5333"/>
<rect x="47.2" y="0" width="3.4" height="84" fill="#9e703d"/>
<rect x="51.6" y="0" width="1.0" height="84" fill="#734c2e"/>
<rect x="53" y="0" width="2.2" height="84" fill="#a47644"/>
<rect x="55.2" y="0" width="25.8" height="84" fill="#4c4846"/>
<rect x="55.2" y="0" width="25.8" height="1.6" fill="#926f4d"/>
<rect x="55.2" y="1.6" width="25.8" height="2.6" fill="#5d4028"/>
<rect x="56" y="4.2" width="25" height="16" fill="#4e4a46"/>
<rect x="70" y="4.2" width="11" height="16" fill="#56433a"/>
<rect x="72" y="4.2" width="1.2" height="16" fill="#69472e"/>
<rect x="75.5" y="4.2" width="1.2" height="16" fill="#69472e"/>
<rect x="56" y="20.2" width="25" height="21.8" fill="#29394b"/>
<rect x="62.3" y="23.3" width="6.6" height="10.2" fill="#516463"/>
<rect x="63.4" y="24.6" width="4.2" height="5" fill="#647674"/>
<rect x="70.9" y="22.3" width="4.2" height="11.2" fill="#77373a"/>
<rect x="76" y="22" width="5" height="14" fill="#5c5239"/>
<rect x="56.5" y="24" width="5" height="11" fill="#27456f"/>
<rect x="56" y="35.4" width="25" height="1.6" fill="#40604a"/>
<rect x="57" y="36.4" width="3.6" height="3.4" fill="#9e9c32"/>
<rect x="61.6" y="36.6" width="3.6" height="3.2" fill="#33589f"/>
<rect x="66.5" y="36.2" width="3" height="3.6" fill="#a5393c"/>
<rect x="70.5" y="36.6" width="4" height="3.2" fill="#407b57"/>
<rect x="75.5" y="36.4" width="4" height="3.4" fill="#ac8b39"/>
<rect x="55.2" y="40.4" width="25.8" height="2" fill="#513926"/>
<rect x="55.2" y="42.4" width="25.8" height="5.6" fill="#344046"/>
<rect x="68" y="43.6" width="13" height="4.4" fill="#975821"/>
<rect x="56" y="48" width="9.4" height="36" fill="#344046"/>
<rect x="56.6" y="52" width="8" height="0.9" fill="#697a84"/>
<rect x="56.6" y="55" width="8" height="0.9" fill="#5c6f7d"/>
<rect x="57.6" y="60" width="3.8" height="22" fill="#336c7d"/>
<rect x="61.4" y="58" width="4.2" height="24" fill="#773932"/>
<rect x="56.5" y="78" width="9" height="6" fill="#2e364a"/>
<rect x="65.4" y="48" width="15.6" height="14" fill="#4e524d"/>
<rect x="65.4" y="48.6" width="15.6" height="1.15" fill="#337376"/>
<rect x="66.4" y="50.050000000000004" width="14.6" height="1.15" fill="#367679"/>
<rect x="65.4" y="51.5" width="15.6" height="1.15" fill="#b22f24"/>
<rect x="66.4" y="52.95" width="14.6" height="1.15" fill="#a83228"/>
<rect x="65.4" y="54.4" width="15.6" height="1.15" fill="#9e9524"/>
<rect x="66.4" y="55.85" width="14.6" height="1.15" fill="#ac9c32"/>
<rect x="65.4" y="57.3" width="15.6" height="1.15" fill="#336c98"/>
<rect x="66.4" y="58.75" width="14.6" height="1.15" fill="#b9a28a"/>
<rect x="65.4" y="60.2" width="15.6" height="1.15" fill="#b23c32"/>
<rect x="65.4" y="62" width="15.6" height="22" fill="#34394a"/>
<rect x="65.4" y="63.5" width="1.73" height="20.5" fill="#336c7d"/>
<rect x="67.13000000000001" y="64.7" width="1.73" height="19.3" fill="#5c2b2b"/>
<rect x="68.86" y="65.9" width="1.73" height="18.1" fill="#276076"/>
<rect x="70.59" y="63.5" width="1.73" height="20.5" fill="#272b57"/>
<rect x="72.32000000000001" y="64.7" width="1.73" height="19.3" fill="#2a5198"/>
<rect x="74.05000000000001" y="65.9" width="1.73" height="18.1" fill="#848076"/>
<rect x="75.78" y="63.5" width="1.73" height="20.5" fill="#846e32"/>
<rect x="77.51" y="64.7" width="1.73" height="19.3" fill="#336068"/>
<rect x="79.24000000000001" y="65.9" width="1.73" height="18.1" fill="#275b6f"/>
<rect x="72.2" y="74" width="2.8" height="8" fill="#c7951e"/>
<rect x="72.2" y="70.5" width="2.8" height="3.5" fill="#2a5198"/>
<rect x="76" y="66" width="1.6" height="9" fill="#9e9c91"/>
<rect x="81" y="0" width="12.8" height="84" fill="#966839"/>
<rect x="82.2" y="0" width="3.6" height="84" fill="#a47541"/>
<rect x="86.8" y="0" width="1.0" height="84" fill="#7c5333"/>
<rect x="88.4" y="0" width="2.6" height="84" fill="#9a6c3c"/>
<rect x="91.6" y="0" width="2.2" height="84" fill="#885b37"/>
<linearGradient id="gevs" x1="0" y1="0" x2="0" y2="1"><stop offset="0" stop-color="#1a0c02" stop-opacity="0"/><stop offset="0.2" stop-color="#1a0c02" stop-opacity="0"/><stop offset="0.6" stop-color="#1a0c02" stop-opacity="0.190"/><stop offset="0.9" stop-color="#1a0c02" stop-opacity="0.400"/><stop offset="1" stop-color="#1a0c02" stop-opacity="0.460"/></linearGradient>
<rect x="0" y="0" width="93.6" height="84" fill="url(#gevs)"/>
<linearGradient id="gect" x1="0" y1="1" x2="1" y2="0"><stop offset="0" stop-color="#aecadc"/><stop offset="0.6" stop-color="#b1cdde"/><stop offset="1" stop-color="#bbd3e0"/></linearGradient>
<linearGradient id="gecs" x1="0" y1="0" x2="0" y2="1"><stop offset="0" stop-color="#a2b8d1"/><stop offset="0.35" stop-color="#899bb7"/><stop offset="0.7" stop-color="#7c89a4"/><stop offset="1" stop-color="#6d738a"/></linearGradient>
<linearGradient id="gecd" x1="0" y1="0" x2="1" y2="0.15"><stop offset="0" stop-color="#57555d" stop-opacity="0"/><stop offset="0.45" stop-color="#57555d" stop-opacity="0.55"/><stop offset="1" stop-color="#4d4a50" stop-opacity="1"/></linearGradient>
<rect x="93" y="30" width="47" height="54" fill="url(#gecs)"/>
<rect x="93.6" y="38" width="3.4" height="30" fill="#b4c8d8"/>
<path d="M97,38 L140,41 L140,46 L101,49 Z" fill="#899bb7"/>
<path d="M109,43.6 L132,41.9 L134,43.4 L113,45.6 Z" fill="#8957a4"/>
<path d="M96.5,37.9 L140,41.2 L140,42.9 L120,41.9 L96.5,38.5 Z" fill="#4a4749"/>
<path d="M94,52 L101,50 L101,84 L94,84 Z" fill="url(#gecd)"/>
<path d="M93.4,0 L140,0 L140,40 L97,36 Q93.4,35.6 93.4,33 Z" fill="url(#gect)"/>
<path d="M96,35.9 L140,39.9 L140,41.2 L97,38 Z" fill="#9fbacf"/>
<circle cx="94.1" cy="38.2" r="1.9" fill="#d5dcd8"/>
<circle cx="99.3" cy="13.4" r="1.7" fill="#966f56"/>
<circle cx="99.0" cy="13.2" r="0.7" fill="#d5bba4"/>
<g fill="none" stroke="#40372c" stroke-width="0.6" stroke-linecap="round" stroke-linejoin="round"><path d="M120.3,11 L121.8,7.2 L123.2,10 L124.2,9.4 L125.2,10 L126.5,7.2 L127.8,10.8"/><path d="M122.6,10.4 Q122.2,12.2 124.2,12.4 Q126,12.2 125.8,10.4"/><path d="M123.8,12.4 L120.5,22.8 Q123.6,24 126.9,23.5 L124.8,12.4"/><path d="M126.9,23.5 Q131.6,22.6 133.6,19.8 Q135.6,16.4 134.4,13.8 Q132.8,11.6 130.2,12.6 Q128,14 128.8,15.8 Q130,17.4 131.4,16.4 Q132.2,15.4 131.2,14.8"/></g>
<path d="M114.4,24.1 Q124,23.7 134.6,25.3 Q124,26.5 114.4,24.1 Z" fill="#40372c" stroke="#40372c" stroke-width="0.3"/>
<linearGradient id="gecl" x1="0" y1="0" x2="1" y2="1"><stop offset="0" stop-color="#def5fb"/><stop offset="0.4" stop-color="#e6fafd"/><stop offset="1" stop-color="#e0f7fb"/></linearGradient>
<path d="M104,46.6 L140,42.7 L140,84 L100.7,84 L100.7,50 Q100.7,47 104,46.6 Z" fill="url(#gecl)"/>
<ellipse cx="106.6" cy="74.6" rx="1.1" ry="1.7" fill="#283c45" transform="rotate(28 106.6 74.6)"/>
<g fill="none" stroke="#459cd7" stroke-width="0.7"><path d="M112.5,84 Q113,79 119.5,78.8 Q126,79 127,84"/><path d="M116,84 Q117,81.4 120,81.4 Q123,81.6 123.6,84"/></g>
<circle cx="131.5" cy="74" r="0.5" fill="#459cd7"/><circle cx="129" cy="76.5" r="0.5" fill="#459cd7"/><circle cx="126.5" cy="79" r="0.45" fill="#459cd7"/>
</g></g></g>
<g transform="translate(405.8,209.0) scale(1.0036,0.9976)"><g clip-path="url(#cpf)"><g filter="url(#soft)">
<rect x="0" y="0" width="140" height="84" fill="#a5691f"/>
<rect x="0" y="0" width="12.4" height="84" fill="#8a7660"/>
<rect x="0" y="0" width="12.4" height="2.2" fill="#b06c22"/>
<rect x="0" y="2.2" width="5.2" height="34" fill="#1c68c8"/>
<rect x="5.6" y="2.2" width="5.8" height="34" fill="#1c64c4"/>
<rect x="4.7" y="2.2" width="1.0" height="34" fill="#0c3c90"/>
<rect x="11.3" y="2.2" width="1.2" height="34" fill="#30302e"/>
<rect x="0.2" y="4.4" width="4.0" height="20.5" fill="#c8e0f0"/>
<rect x="0.4" y="5" width="3.4" height="2.6" fill="#28a0a4"/>
<rect x="6.5" y="5.6" width="3.2" height="17.5" fill="#8ab0d8"/>
<rect x="6.8" y="6" width="2.6" height="2.2" fill="#3a8a98"/>
<circle cx="2.2" cy="31" r="1.05" fill="#10264a"/>
<circle cx="8.6" cy="31" r="1.05" fill="#10264a"/>
<rect x="0" y="36" width="12.4" height="2.8" fill="#a86820"/>
<rect x="0" y="38.8" width="12.4" height="9" fill="#787264"/>
<rect x="0" y="40" width="12.4" height="3" fill="#6a6458"/>
<rect x="0" y="44.6" width="2.8" height="6" fill="#2a3030"/>
<rect x="0" y="47.6" width="11.6" height="3.2" fill="#b0c0c8"/>
<rect x="0" y="50.8" width="11.6" height="1.2" fill="#3a4448"/>
<rect x="0" y="52" width="11.6" height="2.4" fill="#a4b4bc"/>
<rect x="0" y="54.4" width="11.6" height="1.4" fill="#5a6a78"/>
<rect x="0" y="55.8" width="11.6" height="2.6" fill="#98a8b0"/>
<rect x="0" y="58.4" width="11.6" height="1.4" fill="#5a6a78"/>
<rect x="0" y="59.8" width="11.6" height="2.6" fill="#8c9ca8"/>
<rect x="0" y="62.4" width="11.6" height="2.2" fill="#6a7c8c"/>
<rect x="0" y="64.6" width="11.6" height="3.4" fill="#1c78d0"/>
<rect x="0" y="68" width="11.6" height="1.6" fill="#4a98d8"/>
<rect x="0" y="69.6" width="11.6" height="3.4" fill="#1c70c8"/>
<rect x="0" y="73" width="12.4" height="3.2" fill="#c07820"/>
<rect x="0" y="76.2" width="12.4" height="7.8" fill="#5a3c20"/>
<rect x="0" y="79" width="7" height="5" fill="#1c3c70"/>
<rect x="11.4" y="38.8" width="1" height="34" fill="#3a3024"/>
<rect x="12.2" y="0" width="6.8" height="84" fill="#a5691f"/>
<rect x="13.0" y="0" width="2.2" height="84" fill="#b87a2a"/>
<rect x="15.2" y="0" width="1.0" height="84" fill="#885218"/>
<rect x="16.6" y="0" width="2.2" height="84" fill="#b07426"/>
<rect x="18.7" y="0" width="4.2" height="84" fill="#9a6224"/>
<rect x="18.7" y="42" width="2.6" height="42" fill="#a86a20"/>
<rect x="22.5" y="0" width="17.3" height="84" fill="#7a5a30"/>
<rect x="18.7" y="0" width="21.1" height="0.8" fill="#9a6426"/>
<rect x="19.5" y="0.8" width="19.5" height="3.6" fill="#2060b0"/>
<rect x="30.5" y="0.8" width="2.6" height="3.6" fill="#b02818"/>
<rect x="33.1" y="0.8" width="2.6" height="3.6" fill="#1c2c50"/>
<rect x="35.8" y="0.8" width="3.2" height="3.6" fill="#88b8c8"/>
<rect x="18.7" y="4.4" width="21.1" height="2.4" fill="#3a2c1c"/>
<rect x="22.5" y="6.8" width="17.3" height="5.4" fill="#7a5a30"/>
<rect x="25.6" y="12" width="14.0" height="30" fill="#28a030"/>
<rect x="29.2" y="14.8" width="10.4" height="27.2" fill="#b4c6c8"/>
<rect x="31.6" y="16.5" width="3.2" height="11.8" fill="#202c50"/>
<rect x="34.8" y="16" width="4.8" height="14" fill="#58a0d8"/>
<rect x="35.2" y="20" width="2.4" height="3" fill="#c85040"/>
<rect x="29.5" y="29" width="10" height="13" fill="#2470c0"/>
<rect x="33" y="31" width="2.6" height="5" fill="#d89038"/>
<rect x="30.2" y="35" width="2.6" height="5" fill="#e0b838"/>
<rect x="36" y="34" width="3" height="6" fill="#3492d0"/>
<rect x="18.7" y="42" width="21.1" height="2.2" fill="#2c6c74"/>
<rect x="22.5" y="44.2" width="17.3" height="3.8" fill="#3a3020"/>
<rect x="23.3" y="48" width="16.6" height="32.5" fill="#55645f"/>
<rect x="23.3" y="48.0" width="1.39" height="32.5" fill="#5a6c50"/>
<rect x="24.69" y="48.7" width="1.39" height="31.8" fill="#62745a"/>
<rect x="26.080000000000002" y="49.4" width="1.39" height="31.1" fill="#7a8078"/>
<rect x="27.47" y="48.0" width="1.39" height="32.5" fill="#5a7a78"/>
<rect x="28.86" y="48.7" width="1.39" height="31.8" fill="#4a5038"/>
<rect x="30.25" y="49.4" width="1.39" height="31.1" fill="#56705c"/>
<rect x="31.64" y="48.0" width="1.39" height="32.5" fill="#1c5a90"/>
<rect x="33.03" y="48.7" width="1.39" height="31.8" fill="#245e94"/>
<rect x="34.42" y="49.4" width="1.39" height="31.1" fill="#6a7a88"/>
<rect x="35.81" y="48.0" width="1.39" height="32.5" fill="#6a4038"/>
<rect x="37.2" y="48.7" width="1.39" height="31.8" fill="#5a6848"/>
<rect x="38.59" y="49.4" width="1.39" height="31.1" fill="#4e6a60"/>
<rect x="31.5" y="50" width="0.8" height="7" fill="#b03030"/>
<rect x="37.4" y="52" width="0.7" height="26" fill="#a06030"/>
<rect x="22.5" y="80.5" width="17.3" height="3.5" fill="#a0641e"/>
<rect x="39.8" y="0" width="15.4" height="84" fill="#a5691f"/>
<rect x="40.8" y="0" width="3.2" height="84" fill="#b47828"/>
<rect x="45.6" y="0" width="1.0" height="84" fill="#865018"/>
<rect x="47.2" y="0" width="3.4" height="84" fill="#ae7224"/>
<rect x="51.6" y="0" width="1.0" height="84" fill="#7c4812"/>
<rect x="53" y="0" width="2.2" height="84" fill="#b67a2c"/>
<rect x="55.2" y="0" width="25.8" height="84" fill="#484e48"/>
<rect x="55.2" y="0" width="25.8" height="1.6" fill="#9a7c50"/>
<rect x="55.2" y="1.6" width="25.8" height="2.6" fill="#5c4424"/>
<rect x="56" y="4.2" width="25" height="16" fill="#4a5048"/>
<rect x="70" y="4.2" width="11" height="16" fill="#54483a"/>
<rect x="72" y="4.2" width="1.2" height="16" fill="#6a4c2c"/>
<rect x="75.5" y="4.2" width="1.2" height="16" fill="#6a4c2c"/>
<rect x="56" y="20.2" width="25" height="21.8" fill="#1e3c4e"/>
<rect x="62.3" y="23.3" width="6.6" height="10.2" fill="#4e6e6a"/>
<rect x="63.4" y="24.6" width="4.2" height="5" fill="#64847e"/>
<rect x="70.9" y="22.3" width="4.2" height="11.2" fill="#7a3a3a"/>
<rect x="76" y="22" width="5" height="14" fill="#5a5a38"/>
<rect x="56.5" y="24" width="5" height="11" fill="#1c4a78"/>
<rect x="56" y="35.4" width="25" height="1.6" fill="#3a6a4c"/>
<rect x="57" y="36.4" width="3.6" height="3.4" fill="#a8b030"/>
<rect x="61.6" y="36.6" width="3.6" height="3.2" fill="#2a60b0"/>
<rect x="66.5" y="36.2" width="3" height="3.6" fill="#b03c3c"/>
<rect x="70.5" y="36.6" width="4" height="3.2" fill="#3a8a5c"/>
<rect x="75.5" y="36.4" width="4" height="3.4" fill="#b89c38"/>
<rect x="55.2" y="40.4" width="25.8" height="2" fill="#4e3c22"/>
<rect x="55.2" y="42.4" width="25.8" height="5.6" fill="#2c4448"/>
<rect x="68" y="43.6" width="13" height="4.4" fill="#a0601c"/>
<rect x="56" y="48" width="9.4" height="36" fill="#2c4448"/>
<rect x="56.6" y="52" width="8" height="0.9" fill="#6a8890"/>
<rect x="56.6" y="55" width="8" height="0.9" fill="#5a7c88"/>
<rect x="57.6" y="60" width="3.8" height="22" fill="#2a7888"/>
<rect x="61.4" y="58" width="4.2" height="24" fill="#7a3c30"/>
<rect x="56.5" y="78" width="9" height="6" fill="#24384c"/>
<rect x="65.4" y="48" width="15.6" height="14" fill="#4a5a50"/>
<rect x="65.4" y="48.6" width="15.6" height="1.15" fill="#2a8080"/>
<rect x="66.4" y="50.050000000000004" width="14.6" height="1.15" fill="#2e8484"/>
<rect x="65.4" y="51.5" width="15.6" height="1.15" fill="#c03020"/>
<rect x="66.4" y="52.95" width="14.6" height="1.15" fill="#b43424"/>
<rect x="65.4" y="54.4" width="15.6" height="1.15" fill="#a8a820"/>
<rect x="66.4" y="55.85" width="14.6" height="1.15" fill="#b8b030"/>
<rect x="65.4" y="57.3" width="15.6" height="1.15" fill="#2a78a8"/>
<rect x="66.4" y="58.75" width="14.6" height="1.15" fill="#c8b898"/>
<rect x="65.4" y="60.2" width="15.6" height="1.15" fill="#c04030"/>
<rect x="65.4" y="62" width="15.6" height="22" fill="#2c3c4c"/>
<rect x="65.4" y="63.5" width="1.73" height="20.5" fill="#2a7888"/>
<rect x="67.13000000000001" y="64.7" width="1.73" height="19.3" fill="#5a2c28"/>
<rect x="68.86" y="65.9" width="1.73" height="18.1" fill="#1c6a80"/>
<rect x="70.59" y="63.5" width="1.73" height="20.5" fill="#1c2c5c"/>
<rect x="72.32000000000001" y="64.7" width="1.73" height="19.3" fill="#2058a8"/>
<rect x="74.05000000000001" y="65.9" width="1.73" height="18.1" fill="#8a9080"/>
<rect x="75.78" y="63.5" width="1.73" height="20.5" fill="#8a7a30"/>
<rect x="77.51" y="64.7" width="1.73" height="19.3" fill="#2a6a70"/>
<rect x="79.24000000000001" y="65.9" width="1.73" height="18.1" fill="#1c6478"/>
<rect x="72.2" y="74" width="2.8" height="8" fill="#d8a818"/>
<rect x="72.2" y="70.5" width="2.8" height="3.5" fill="#2058a8"/>
<rect x="76" y="66" width="1.6" height="9" fill="#a8b0a0"/>
<rect x="81" y="0" width="12.8" height="84" fill="#a5691f"/>
<rect x="82.2" y="0" width="3.6" height="84" fill="#b57828"/>
<rect x="86.8" y="0" width="1.0" height="84" fill="#865018"/>
<rect x="88.4" y="0" width="2.6" height="84" fill="#aa6e22"/>
<rect x="91.6" y="0" width="2.2" height="84" fill="#945a1c"/>
<linearGradient id="gfvs" x1="0" y1="0" x2="0" y2="1"><stop offset="0" stop-color="#1a0c02" stop-opacity="0"/><stop offset="0.2" stop-color="#1a0c02" stop-opacity="0"/><stop offset="0.6" stop-color="#1a0c02" stop-opacity="0.190"/><stop offset="0.9" stop-color="#1a0c02" stop-opacity="0.400"/><stop offset="1" stop-color="#1a0c02" stop-opacity="0.460"/></linearGradient>
<rect x="0" y="0" width="93.6" height="84" fill="url(#gfvs)"/>
<linearGradient id="gfct" x1="0" y1="1" x2="1" y2="0"><stop offset="0" stop-color="#98caf6"/><stop offset="0.6" stop-color="#9ccef8"/><stop offset="1" stop-color="#a8d6fb"/></linearGradient>
<linearGradient id="gfcs" x1="0" y1="0" x2="0" y2="1"><stop offset="0" stop-color="#8ab4e8"/><stop offset="0.35" stop-color="#6a90c8"/><stop offset="0.7" stop-color="#5a7ab0"/><stop offset="1" stop-color="#485e90"/></linearGradient>
<linearGradient id="gfcd" x1="0" y1="0" x2="1" y2="0.15"><stop offset="0" stop-color="#2c3a58" stop-opacity="0"/><stop offset="0.45" stop-color="#2c3a58" stop-opacity="0.55"/><stop offset="1" stop-color="#202c48" stop-opacity="1"/></linearGradient>
<rect x="93" y="30" width="47" height="54" fill="url(#gfcs)"/>
<rect x="93.6" y="38" width="3.4" height="30" fill="#a0c8f0"/>
<path d="M97,38 L140,41 L140,46 L101,49 Z" fill="#6a90c8"/>
<path d="M109,43.6 L132,41.9 L134,43.4 L113,45.6 Z" fill="#6a3cb0"/>
<path d="M96.5,37.9 L140,41.2 L140,42.9 L120,41.9 L96.5,38.5 Z" fill="#1c2840"/>
<path d="M94,52 L101,50 L101,84 L94,84 Z" fill="url(#gfcd)"/>
<path d="M93.4,0 L140,0 L140,40 L97,36 Q93.4,35.6 93.4,33 Z" fill="url(#gfct)"/>
<path d="M96,35.9 L140,39.9 L140,41.2 L97,38 Z" fill="#86b6e6"/>
<circle cx="94.1" cy="38.2" r="1.9" fill="#c8e0f0"/>
<circle cx="99.3" cy="13.4" r="1.7" fill="#7a5a50"/>
<circle cx="99.0" cy="13.2" r="0.7" fill="#c8b8b0"/>
<g fill="none" stroke="#10141c" stroke-width="0.6" stroke-linecap="round" stroke-linejoin="round"><path d="M120.3,11 L121.8,7.2 L123.2,10 L124.2,9.4 L125.2,10 L126.5,7.2 L127.8,10.8"/><path d="M122.6,10.4 Q122.2,12.2 124.2,12.4 Q126,12.2 125.8,10.4"/><path d="M123.8,12.4 L120.5,22.8 Q123.6,24 126.9,23.5 L124.8,12.4"/><path d="M126.9,23.5 Q131.6,22.6 133.6,19.8 Q135.6,16.4 134.4,13.8 Q132.8,11.6 130.2,12.6 Q128,14 128.8,15.8 Q130,17.4 131.4,16.4 Q132.2,15.4 131.2,14.8"/></g>
<path d="M114.4,24.1 Q124,23.7 134.6,25.3 Q124,26.5 114.4,24.1 Z" fill="#10141c" stroke="#10141c" stroke-width="0.3"/>
<linearGradient id="gfcl" x1="0" y1="0" x2="1" y2="1"><stop offset="0" stop-color="#eef5fa"/><stop offset="0.4" stop-color="#f7fbfc"/><stop offset="1" stop-color="#f0f8fa"/></linearGradient>
<path d="M104,46.6 L140,42.7 L140,84 L100.7,84 L100.7,50 Q100.7,47 104,46.6 Z" fill="url(#gfcl)"/>
<ellipse cx="106.6" cy="74.6" rx="1.1" ry="1.7" fill="#181c24" transform="rotate(28 106.6 74.6)"/>
<g fill="none" stroke="#3a8cd0" stroke-width="0.7"><path d="M112.5,84 Q113,79 119.5,78.8 Q126,79 127,84"/><path d="M116,84 Q117,81.4 120,81.4 Q123,81.6 123.6,84"/></g>
<circle cx="131.5" cy="74" r="0.5" fill="#3a8cd0"/><circle cx="129" cy="76.5" r="0.5" fill="#3a8cd0"/><circle cx="126.5" cy="79" r="0.45" fill="#3a8cd0"/>
</g></g></g>
<g>
<rect x="5.67" y="89.2" width="139.0" height="91.5" fill="#fff" stroke="#9a9a9a" stroke-width="0.9"/>
<line x1="11.99" y1="180.70" x2="11.99" y2="182.20" stroke="#555" stroke-width="0.5"/>
<text class="tk" x="11.99" y="187.90" text-anchor="middle">0</text>
<line x1="36.77" y1="180.70" x2="36.77" y2="182.20" stroke="#555" stroke-width="0.5"/>
<text class="tk" x="36.77" y="187.90" text-anchor="middle">50</text>
<line x1="61.54" y1="180.70" x2="61.54" y2="182.20" stroke="#555" stroke-width="0.5"/>
<text class="tk" x="61.54" y="187.90" text-anchor="middle">100</text>
<line x1="86.32" y1="180.70" x2="86.32" y2="182.20" stroke="#555" stroke-width="0.5"/>
<text class="tk" x="86.32" y="187.90" text-anchor="middle">150</text>
<line x1="111.10" y1="180.70" x2="111.10" y2="182.20" stroke="#555" stroke-width="0.5"/>
<text class="tk" x="111.10" y="187.90" text-anchor="middle">200</text>
<line x1="135.87" y1="180.70" x2="135.87" y2="182.20" stroke="#555" stroke-width="0.5"/>
<text class="tk" x="135.87" y="187.90" text-anchor="middle">250</text>
<g fill="none" stroke-width="0.95" stroke-linejoin="round" filter="url(#soft2)">
<polyline points="12.02,152.57 12.93,142.37 14.06,135.58 15.19,134.44 16.33,136.71 17.46,143.51 19.05,153.70 20.86,160.50 23.12,166.16 25.39,168.43 26.98,162.76 28.33,141.24 29.47,146.90 30.60,165.03 32.19,172.28 36.72,173.64 38.08,165.03 39.44,141.92 40.34,149.17 41.25,167.29 42.61,173.64 50.31,174.77 63.45,175.22" stroke="#ff4646"/>
<polyline points="12.25,174.09 13.16,144.64 14.52,110.66 15.19,104.31 16.33,117.45 17.46,133.31 19.05,151.43 20.86,160.50 23.12,167.29 26.52,171.82 32.19,173.64 33.77,165.03 34.90,149.62 36.04,158.23 36.94,155.97 38.08,167.29 39.44,172.96 42.38,173.64 46.91,174.09 48.50,165.03 49.63,153.02 50.31,157.10 50.99,154.83 52.12,167.29 53.26,174.09 57.11,175.00 63.45,175.22" stroke="#46a246"/>
<polyline points="11.80,143.51 12.70,115.19 13.61,93.66 14.52,99.33 15.19,108.39 16.33,128.78 17.46,144.64 18.59,155.97 20.86,167.29 24.26,171.82 29.92,174.09 36.72,174.09 38.53,165.03 39.66,151.43 40.80,162.76 41.93,161.63 43.06,171.82 45.78,175.22 55.97,175.22 57.56,162.76 58.69,152.57 59.83,162.76 60.96,174.09 62.77,175.45 72.97,175.45 95.62,175.45 118.28,175.45 138.67,175.45" stroke="#4040ff"/>
</g>
<rect x="100.07" y="91.90" width="41.6" height="26.0" rx="0.8" fill="#fff" fill-opacity="0.8" stroke="#dcdcdc" stroke-width="0.6"/>
<line x1="102.77" y1="96.40" x2="115.77" y2="96.40" stroke="#ff4646" stroke-width="1.2" stroke-opacity="0.8"/>
<text class="lg" x="120.77" y="98.60">Red</text>
<line x1="102.77" y1="104.65" x2="115.77" y2="104.65" stroke="#46a246" stroke-width="1.2" stroke-opacity="0.8"/>
<text class="lg" x="120.77" y="106.85">Green</text>
<line x1="102.77" y1="112.90" x2="115.77" y2="112.90" stroke="#4040ff" stroke-width="1.2" stroke-opacity="0.8"/>
<text class="lg" x="120.77" y="115.10">Blue</text>
</g>
<g>
<rect x="202.5" y="89.6" width="139.0" height="91.5" fill="#fff" stroke="#9a9a9a" stroke-width="0.9"/>
<line x1="208.82" y1="181.10" x2="208.82" y2="182.60" stroke="#555" stroke-width="0.5"/>
<text class="tk" x="208.82" y="188.30" text-anchor="middle">0</text>
<line x1="233.60" y1="181.10" x2="233.60" y2="182.60" stroke="#555" stroke-width="0.5"/>
<text class="tk" x="233.60" y="188.30" text-anchor="middle">50</text>
<line x1="258.37" y1="181.10" x2="258.37" y2="182.60" stroke="#555" stroke-width="0.5"/>
<text class="tk" x="258.37" y="188.30" text-anchor="middle">100</text>
<line x1="283.15" y1="181.10" x2="283.15" y2="182.60" stroke="#555" stroke-width="0.5"/>
<text class="tk" x="283.15" y="188.30" text-anchor="middle">150</text>
<line x1="307.93" y1="181.10" x2="307.93" y2="182.60" stroke="#555" stroke-width="0.5"/>
<text class="tk" x="307.93" y="188.30" text-anchor="middle">200</text>
<line x1="332.70" y1="181.10" x2="332.70" y2="182.60" stroke="#555" stroke-width="0.5"/>
<text class="tk" x="332.70" y="188.30" text-anchor="middle">250</text>
<g fill="none" stroke-width="0.95" stroke-linejoin="round" filter="url(#soft2)">
<polyline points="208.34,167.29 208.57,175.22 209.93,174.77 215.59,173.64 224.66,171.82 233.72,170.01 242.78,168.43 250.71,167.29 258.64,166.16 262.04,163.89 262.00,166.16 264.27,162.76 265.40,144.64 266.30,110.66 266.98,93.66 267.89,110.66 268.80,144.64 269.93,157.10 271.52,159.36 273.33,155.97 274.91,144.64 276.05,121.98 276.95,114.73 277.86,126.51 278.99,149.17 280.12,159.36 282.39,160.50 284.66,161.63 288.05,163.22 292.58,165.03 295.98,165.03 299.38,163.89 300.97,162.76 302.78,166.16 306.18,171.82 310.71,175.22 316.37,176.36 323.17,176.81" stroke="#ff4646"/>
<polyline points="208.34,176.81 215.59,175.90 224.66,174.54 233.72,172.96 240.51,169.56 245.04,166.16 249.58,162.31 252.97,159.36 255.24,158.23 258.64,159.59 262.04,160.50 264.27,160.04 266.53,158.23 268.80,155.51 271.06,154.38 273.33,155.97 275.59,159.36 278.99,161.63 281.26,162.76 282.84,160.50 283.75,144.64 284.66,126.51 285.33,121.53 286.01,135.58 286.92,136.71 287.60,146.90 288.73,160.50 290.32,163.89 293.72,164.57 295.98,166.16 297.80,165.03 298.93,155.97 299.83,137.84 300.74,128.78 301.65,140.11 302.78,160.50 304.59,168.43 307.31,172.96 310.71,175.22 316.37,176.81" stroke="#46a246"/>
<polyline points="208.34,176.36 213.33,175.22 217.86,174.09 222.39,170.69 225.79,165.03 229.19,160.04 232.58,157.10 234.85,155.97 237.12,157.78 239.38,160.04 241.65,162.31 246.18,163.22 249.58,162.31 251.84,163.22 255.24,165.03 258.64,166.61 261.81,167.29 266.53,169.11 273.33,170.24 280.12,171.37 284.66,171.37 289.19,170.69 292.58,170.01 295.53,168.43 296.44,155.97 297.34,133.31 298.02,119.72 298.70,133.31 299.38,136.71 300.06,146.90 300.97,162.76 302.78,169.56 306.18,172.96 310.71,174.09 312.97,173.64 314.11,167.29 315.24,149.17 316.37,133.31 317.51,149.17 318.64,167.29 320.00,173.64 322.04,174.54 323.62,176.36 327.70,176.81 334.95,176.81" stroke="#4040ff"/>
</g>
<rect x="296.90" y="92.30" width="41.6" height="26.0" rx="0.8" fill="#fff" fill-opacity="0.8" stroke="#dcdcdc" stroke-width="0.6"/>
<line x1="299.60" y1="96.80" x2="312.60" y2="96.80" stroke="#ff4646" stroke-width="1.2" stroke-opacity="0.8"/>
<text class="lg" x="317.60" y="99.00">Red</text>
<line x1="299.60" y1="105.05" x2="312.60" y2="105.05" stroke="#46a246" stroke-width="1.2" stroke-opacity="0.8"/>
<text class="lg" x="317.60" y="107.25">Green</text>
<line x1="299.60" y1="113.30" x2="312.60" y2="113.30" stroke="#4040ff" stroke-width="1.2" stroke-opacity="0.8"/>
<text class="lg" x="317.60" y="115.50">Blue</text>
</g>
<g>
<rect x="406.6" y="89.5" width="139.0" height="91.5" fill="#fff" stroke="#9a9a9a" stroke-width="0.9"/>
<line x1="412.92" y1="181.00" x2="412.92" y2="182.50" stroke="#555" stroke-width="0.5"/>
<text class="tk" x="412.92" y="188.20" text-anchor="middle">0</text>
<line x1="437.70" y1="181.00" x2="437.70" y2="182.50" stroke="#555" stroke-width="0.5"/>
<text class="tk" x="437.70" y="188.20" text-anchor="middle">50</text>
<line x1="462.47" y1="181.00" x2="462.47" y2="182.50" stroke="#555" stroke-width="0.5"/>
<text class="tk" x="462.47" y="188.20" text-anchor="middle">100</text>
<line x1="487.25" y1="181.00" x2="487.25" y2="182.50" stroke="#555" stroke-width="0.5"/>
<text class="tk" x="487.25" y="188.20" text-anchor="middle">150</text>
<line x1="512.03" y1="181.00" x2="512.03" y2="182.50" stroke="#555" stroke-width="0.5"/>
<text class="tk" x="512.03" y="188.20" text-anchor="middle">200</text>
<line x1="536.80" y1="181.00" x2="536.80" y2="182.50" stroke="#555" stroke-width="0.5"/>
<text class="tk" x="536.80" y="188.20" text-anchor="middle">250</text>
<g fill="none" stroke-width="0.95" stroke-linejoin="round" filter="url(#soft2)">
<polyline points="412.80,176.81 416.87,175.90 419.14,173.64 421.41,169.56 423.67,165.03 425.94,162.31 427.52,163.89 429.11,163.22 430.92,160.95 433.19,161.63 435.45,160.50 437.72,160.95 439.98,159.36 441.80,154.83 442.93,151.89 444.06,152.57 444.97,155.97 446.33,159.36 447.91,160.50 449.50,158.23 451.31,155.97 453.12,154.38 454.71,155.06 456.29,155.97 458.11,157.10 459.92,158.68 461.51,160.50 463.77,162.76 465.81,165.03 466.00,165.03 468.27,166.16 470.08,169.11 472.34,170.01 473.93,169.11 476.19,170.01 479.59,171.37 484.12,172.28 487.52,171.82 488.66,169.56 489.56,155.97 490.47,136.71 491.37,142.37 492.28,149.17 493.64,153.70 495.00,155.97 496.13,162.76 497.72,170.69 499.98,173.64 503.38,174.09 506.78,174.54 510.18,175.22 512.44,174.09 514.03,167.29 515.39,160.50 516.75,160.04 517.65,149.17 518.56,137.84 519.69,136.71 520.37,146.90 521.28,165.03 522.64,172.28 524.90,173.64 526.72,174.54 528.30,172.96 529.43,175.22 533.97,176.81" stroke="#ff4646"/>
<polyline points="412.80,176.81 417.33,176.36 420.73,175.22 423.67,171.82 425.94,167.29 428.20,163.89 429.79,159.36 431.37,151.43 432.73,144.64 433.87,138.97 435.00,132.18 435.68,128.78 436.58,132.18 437.72,136.71 439.53,140.56 441.12,143.51 442.70,146.45 444.51,149.17 446.33,153.70 448.59,158.23 451.31,162.76 454.03,166.16 456.97,168.88 460.37,170.69 463.77,171.82 465.81,172.96 466.00,173.64 470.53,174.09 472.34,172.28 473.48,170.01 474.61,171.82 477.33,173.64 481.86,174.54 487.52,175.00 490.92,174.54 493.19,174.09 494.32,169.56 495.23,158.23 496.13,148.72 497.04,148.04 497.94,152.57 498.85,149.17 499.53,158.23 500.44,153.70 501.34,151.89 502.25,155.97 503.15,165.03 504.51,171.82 506.33,173.64 507.91,171.82 509.04,174.09 512.44,175.22 516.97,175.90 520.37,175.22 522.18,169.56 523.32,151.43 524.45,128.78 525.36,117.45 526.26,133.31 527.17,162.76 528.30,172.96 529.89,175.90 533.97,176.81" stroke="#46a246"/>
<polyline points="412.80,176.81 416.19,176.36 418.46,175.22 420.73,172.96 422.99,168.43 424.58,160.50 425.94,151.43 427.07,142.37 427.98,138.97 429.11,140.56 430.47,138.29 431.60,134.44 432.73,129.91 433.41,129.46 434.09,135.58 435.00,141.24 436.58,145.77 438.17,149.62 439.98,150.98 442.25,151.43 444.06,153.70 445.65,157.10 447.91,160.50 450.18,163.89 453.58,167.29 456.97,169.56 461.51,171.82 465.81,173.18 466.00,173.64 472.80,174.54 479.59,175.00 486.39,175.22 490.92,175.00 492.73,173.64 494.32,174.54 497.72,175.00 500.44,173.64 501.80,167.29 502.93,158.23 504.06,149.17 504.97,146.90 505.87,153.70 506.78,157.10 507.69,150.30 508.37,149.17 509.27,155.97 510.40,167.29 511.76,173.64 513.58,175.22 515.84,175.90 520.37,175.45 523.77,175.90 526.04,175.22 527.17,167.29 528.08,144.64 528.98,110.66 529.89,93.66 530.79,110.66 531.70,155.97 532.61,174.09 533.97,176.36 539.18,176.81" stroke="#4040ff"/>
</g>
<rect x="409.50" y="92.20" width="41.6" height="26.0" rx="0.8" fill="#fff" fill-opacity="0.8" stroke="#dcdcdc" stroke-width="0.6"/>
<line x1="412.20" y1="96.70" x2="425.20" y2="96.70" stroke="#ff4646" stroke-width="1.2" stroke-opacity="0.8"/>
<text class="lg" x="430.20" y="98.90">Red</text>
<line x1="412.20" y1="104.95" x2="425.20" y2="104.95" stroke="#46a246" stroke-width="1.2" stroke-opacity="0.8"/>
<text class="lg" x="430.20" y="107.15">Green</text>
<line x1="412.20" y1="113.20" x2="425.20" y2="113.20" stroke="#4040ff" stroke-width="1.2" stroke-opacity="0.8"/>
<text class="lg" x="430.20" y="115.40">Blue</text>
</g>
<g>
<rect x="4.3" y="294.8" width="139.0" height="91.5" fill="#fff" stroke="#9a9a9a" stroke-width="0.9"/>
<line x1="10.62" y1="386.30" x2="10.62" y2="387.80" stroke="#555" stroke-width="0.5"/>
<text class="tk" x="10.62" y="393.50" text-anchor="middle">0</text>
<line x1="35.40" y1="386.30" x2="35.40" y2="387.80" stroke="#555" stroke-width="0.5"/>
<text class="tk" x="35.40" y="393.50" text-anchor="middle">50</text>
<line x1="60.17" y1="386.30" x2="60.17" y2="387.80" stroke="#555" stroke-width="0.5"/>
<text class="tk" x="60.17" y="393.50" text-anchor="middle">100</text>
<line x1="84.95" y1="386.30" x2="84.95" y2="387.80" stroke="#555" stroke-width="0.5"/>
<text class="tk" x="84.95" y="393.50" text-anchor="middle">150</text>
<line x1="109.73" y1="386.30" x2="109.73" y2="387.80" stroke="#555" stroke-width="0.5"/>
<text class="tk" x="109.73" y="393.50" text-anchor="middle">200</text>
<line x1="134.50" y1="386.30" x2="134.50" y2="387.80" stroke="#555" stroke-width="0.5"/>
<text class="tk" x="134.50" y="393.50" text-anchor="middle">250</text>
<g fill="none" stroke-width="0.95" stroke-linejoin="round" filter="url(#soft2)">
<polyline points="10.34,381.36 11.25,382.26 17.59,382.03 24.39,381.58 28.92,380.90 32.32,380.22 35.72,379.09 39.12,377.96 42.51,377.28 45.91,376.37 49.31,376.82 52.71,376.37 54.97,377.28 57.24,376.37 59.05,375.01 60.64,374.11 62.45,375.69 63.81,376.82 64.00,379.09 67.40,379.54 70.80,380.22 75.33,380.00 79.86,380.68 84.39,380.22 86.66,379.09 88.01,375.69 89.15,372.29 89.83,371.61 90.73,374.56 91.87,377.96 93.45,379.54 96.85,380.22 101.38,380.90 105.91,381.58 113.84,381.81 122.90,382.03 130.83,381.81 133.10,380.45 135.36,380.00 136.95,379.54" stroke="#ff4646"/>
<polyline points="10.34,382.26 19.86,382.03 25.52,381.36 28.92,380.90 32.32,380.22 35.72,379.09 37.98,377.96 40.25,375.69 42.51,373.43 44.78,372.29 46.37,372.97 48.18,374.56 50.44,373.88 52.03,375.01 53.84,376.37 55.65,375.69 57.24,377.28 59.51,378.64 63.81,379.77 64.00,380.45 68.53,380.90 75.33,381.36 86.66,381.81 95.72,381.81 99.12,380.90 100.25,377.96 101.38,375.69 102.97,375.24 104.10,377.28 105.23,380.22 107.04,381.36 108.86,380.22 110.22,379.09 111.58,380.00 112.94,381.36 118.37,381.81 131.97,382.03 136.95,382.03" stroke="#46a246"/>
<polyline points="10.34,382.26 17.59,382.03 23.26,381.36 25.52,380.22 27.79,377.96 31.19,375.01 34.58,373.43 36.85,372.29 38.44,373.88 40.25,375.01 42.51,376.37 45.91,377.28 49.31,377.28 52.71,377.96 56.11,379.09 60.64,380.22 63.81,380.90 64.00,380.90 70.80,381.36 77.59,381.81 86.66,382.03 97.98,382.03 105.91,381.81 107.72,380.22 108.86,376.82 109.99,377.28 110.90,376.37 112.03,377.96 113.39,380.22 115.65,380.45 117.24,379.09 118.83,378.64 120.18,380.00 122.45,381.36 127.43,382.03 135.36,382.03 136.04,379.09 136.50,338.31 136.95,298.66" stroke="#4040ff"/>
</g>
<rect x="7.20" y="297.50" width="41.6" height="26.0" rx="0.8" fill="#fff" fill-opacity="0.8" stroke="#dcdcdc" stroke-width="0.6"/>
<line x1="9.90" y1="302.00" x2="22.90" y2="302.00" stroke="#ff4646" stroke-width="1.2" stroke-opacity="0.8"/>
<text class="lg" x="27.90" y="304.20">Red</text>
<line x1="9.90" y1="310.25" x2="22.90" y2="310.25" stroke="#46a246" stroke-width="1.2" stroke-opacity="0.8"/>
<text class="lg" x="27.90" y="312.45">Green</text>
<line x1="9.90" y1="318.50" x2="22.90" y2="318.50" stroke="#4040ff" stroke-width="1.2" stroke-opacity="0.8"/>
<text class="lg" x="27.90" y="320.70">Blue</text>
</g>
<g>
<rect x="203.0" y="294.8" width="139.0" height="91.5" fill="#fff" stroke="#9a9a9a" stroke-width="0.9"/>
<line x1="209.32" y1="386.30" x2="209.32" y2="387.80" stroke="#555" stroke-width="0.5"/>
<text class="tk" x="209.32" y="393.50" text-anchor="middle">0</text>
<line x1="234.10" y1="386.30" x2="234.10" y2="387.80" stroke="#555" stroke-width="0.5"/>
<text class="tk" x="234.10" y="393.50" text-anchor="middle">50</text>
<line x1="258.87" y1="386.30" x2="258.87" y2="387.80" stroke="#555" stroke-width="0.5"/>
<text class="tk" x="258.87" y="393.50" text-anchor="middle">100</text>
<line x1="283.65" y1="386.30" x2="283.65" y2="387.80" stroke="#555" stroke-width="0.5"/>
<text class="tk" x="283.65" y="393.50" text-anchor="middle">150</text>
<line x1="308.43" y1="386.30" x2="308.43" y2="387.80" stroke="#555" stroke-width="0.5"/>
<text class="tk" x="308.43" y="393.50" text-anchor="middle">200</text>
<line x1="333.20" y1="386.30" x2="333.20" y2="387.80" stroke="#555" stroke-width="0.5"/>
<text class="tk" x="333.20" y="393.50" text-anchor="middle">250</text>
<g fill="none" stroke-width="0.95" stroke-linejoin="round" filter="url(#soft2)">
<polyline points="209.48,382.26 215.59,382.03 220.12,381.58 223.52,380.45 226.92,378.64 230.32,376.82 232.58,375.69 234.85,375.01 237.12,374.56 239.38,374.11 241.65,373.43 243.91,372.75 246.18,372.29 248.44,371.84 250.71,372.29 252.97,372.75 255.24,371.16 257.51,369.12 259.09,368.22 260.45,369.12 261.81,370.48 262.00,371.16 264.27,370.48 266.53,372.29 269.93,375.01 273.33,376.82 277.86,378.64 282.39,379.54 289.19,380.22 293.72,380.00 295.08,374.56 295.98,364.36 297.12,361.65 298.02,366.63 298.93,365.50 300.06,367.76 301.19,371.16 302.33,377.96 303.91,380.22 307.31,380.90 314.11,381.36 318.64,380.90 320.00,376.82 320.90,365.50 322.04,357.57 323.17,354.62 324.30,356.43 325.21,367.76 326.11,380.22 327.70,381.81 335.86,382.03" stroke="#ff4646"/>
<polyline points="209.48,382.26 215.59,382.03 220.12,381.36 223.52,380.22 226.47,377.96 229.19,375.01 231.90,371.84 234.17,368.89 235.98,365.95 237.80,362.78 239.38,360.51 240.97,361.65 242.78,363.23 245.04,365.50 247.31,367.31 249.12,368.22 250.48,366.86 251.84,368.22 253.65,370.03 255.92,371.84 258.18,374.56 260.45,376.82 261.81,377.73 262.00,377.96 266.53,379.09 271.06,379.77 277.86,380.22 284.66,380.90 295.98,381.36 303.91,381.36 306.18,380.22 307.31,374.56 308.22,367.76 309.35,365.04 310.48,367.76 311.39,368.89 312.52,366.63 313.65,367.76 314.56,374.56 315.69,380.22 317.51,380.90 319.09,379.54 320.45,380.90 325.43,381.36 329.97,381.36 331.10,376.82 332.00,363.23 332.91,354.17 333.82,355.30 334.50,367.76 335.40,380.22 336.08,381.81" stroke="#46a246"/>
<polyline points="209.48,382.26 214.46,382.03 218.99,381.36 221.94,380.22 224.20,376.82 225.79,371.16 227.37,366.63 228.73,365.04 230.09,366.63 231.45,365.50 233.04,362.78 234.62,359.83 235.98,358.02 237.12,359.83 238.25,363.23 239.61,366.63 240.97,368.22 242.78,369.57 245.04,370.03 247.31,371.16 249.58,373.43 252.29,375.69 255.24,377.28 258.64,378.64 261.81,379.32 262.00,379.09 268.80,380.00 275.59,380.45 284.66,380.90 295.98,381.36 307.31,381.36 312.97,380.90 315.24,377.96 316.37,370.03 317.51,363.23 318.64,365.50 319.54,368.89 320.45,360.97 321.36,358.70 322.04,365.50 322.72,376.82 323.62,380.90 326.57,381.36 329.97,380.90 331.32,372.29 332.23,349.64 333.14,315.66 333.82,298.66 334.50,326.98 335.18,360.97 335.86,371.16 336.08,374.56" stroke="#4040ff"/>
</g>
<rect x="205.90" y="297.50" width="41.6" height="26.0" rx="0.8" fill="#fff" fill-opacity="0.8" stroke="#dcdcdc" stroke-width="0.6"/>
<line x1="208.60" y1="302.00" x2="221.60" y2="302.00" stroke="#ff4646" stroke-width="1.2" stroke-opacity="0.8"/>
<text class="lg" x="226.60" y="304.20">Red</text>
<line x1="208.60" y1="310.25" x2="221.60" y2="310.25" stroke="#46a246" stroke-width="1.2" stroke-opacity="0.8"/>
<text class="lg" x="226.60" y="312.45">Green</text>
<line x1="208.60" y1="318.50" x2="221.60" y2="318.50" stroke="#4040ff" stroke-width="1.2" stroke-opacity="0.8"/>
<text class="lg" x="226.60" y="320.70">Blue</text>
</g>
<g>
<rect x="406.6" y="294.8" width="139.0" height="91.5" fill="#fff" stroke="#9a9a9a" stroke-width="0.9"/>
<line x1="412.92" y1="386.30" x2="412.92" y2="387.80" stroke="#555" stroke-width="0.5"/>
<text class="tk" x="412.92" y="393.50" text-anchor="middle">0</text>
<line x1="437.70" y1="386.30" x2="437.70" y2="387.80" stroke="#555" stroke-width="0.5"/>
<text class="tk" x="437.70" y="393.50" text-anchor="middle">50</text>
<line x1="462.47" y1="386.30" x2="462.47" y2="387.80" stroke="#555" stroke-width="0.5"/>
<text class="tk" x="462.47" y="393.50" text-anchor="middle">100</text>
<line x1="487.25" y1="386.30" x2="487.25" y2="387.80" stroke="#555" stroke-width="0.5"/>
<text class="tk" x="487.25" y="393.50" text-anchor="middle">150</text>
<line x1="512.03" y1="386.30" x2="512.03" y2="387.80" stroke="#555" stroke-width="0.5"/>
<text class="tk" x="512.03" y="393.50" text-anchor="middle">200</text>
<line x1="536.80" y1="386.30" x2="536.80" y2="387.80" stroke="#555" stroke-width="0.5"/>
<text class="tk" x="536.80" y="393.50" text-anchor="middle">250</text>
<g fill="none" stroke-width="0.95" stroke-linejoin="round" filter="url(#soft2)">
<polyline points="412.80,371.16 413.25,381.81 415.06,382.03 418.46,381.36 421.86,380.22 425.26,378.64 428.66,377.28 432.05,376.82 435.45,376.14 438.85,375.69 442.25,374.56 445.65,372.75 449.04,371.16 451.31,370.03 453.58,371.16 455.84,372.29 458.11,371.16 460.37,372.75 462.64,372.29 464.45,370.03 465.81,369.12 466.00,371.16 467.81,369.57 469.40,371.84 470.98,370.03 472.80,372.29 474.61,371.16 476.19,374.11 477.78,372.29 479.59,374.56 481.41,372.29 482.99,374.11 484.58,375.69 486.39,376.37 487.52,372.29 488.66,360.97 489.56,353.72 490.47,352.36 491.37,356.43 492.28,360.97 493.19,365.50 494.32,371.16 495.90,375.69 497.72,377.96 501.12,379.54 505.65,380.22 511.31,380.68 518.11,380.90 523.77,380.68 525.36,377.96 526.72,380.22 527.62,374.56 528.53,380.22 529.43,370.03 530.11,380.22 531.02,363.23 531.70,380.22 532.61,356.43 533.29,380.22 533.97,345.56 534.65,367.76 535.32,380.22 536.68,381.36 539.18,381.81" stroke="#ff4646"/>
<polyline points="412.80,382.26 417.33,382.03 421.86,381.36 426.39,380.22 430.92,378.64 434.32,376.82 436.58,374.56 438.85,371.16 440.44,367.76 442.25,363.23 443.83,359.83 445.19,358.25 446.33,360.51 447.91,362.10 449.50,364.36 450.86,365.95 452.44,365.04 454.03,367.76 455.39,366.63 456.97,368.89 458.56,367.76 460.37,371.16 462.64,373.43 465.81,375.46 466.00,377.28 469.40,377.96 472.80,378.64 477.33,379.09 482.99,379.54 488.66,380.00 495.45,380.45 502.25,380.68 507.91,380.68 509.72,379.09 510.86,373.43 511.99,367.76 512.90,365.95 513.80,368.89 514.71,364.36 515.61,367.76 516.52,365.95 517.43,368.89 518.33,366.63 519.24,372.29 520.37,379.09 522.18,380.68 526.04,380.90 533.97,381.36 539.18,381.81" stroke="#46a246"/>
<polyline points="412.80,382.26 415.06,381.81 417.33,380.22 419.59,377.28 421.86,374.11 424.12,371.16 426.39,367.76 428.20,365.04 429.56,363.23 430.92,364.36 432.73,366.63 434.32,365.95 435.90,365.04 437.26,367.31 438.85,366.63 440.44,365.04 441.80,364.36 443.38,366.63 444.97,370.03 446.78,372.29 449.04,374.11 451.31,375.69 454.71,377.28 458.11,378.18 462.64,379.32 465.81,380.00 466.00,379.09 472.80,380.00 481.86,380.45 493.19,380.90 506.78,381.13 518.11,380.90 522.64,380.22 524.45,377.96 525.81,373.43 527.17,371.16 528.53,370.03 529.89,371.16 531.25,368.89 532.38,371.16 533.29,367.76 533.97,349.64 534.87,315.66 535.55,298.66 536.23,320.19 536.91,349.64 537.59,372.29 538.27,380.22 538.95,377.96 539.40,365.50 539.63,365.04" stroke="#4040ff"/>
</g>
<rect x="409.50" y="297.50" width="41.6" height="26.0" rx="0.8" fill="#fff" fill-opacity="0.8" stroke="#dcdcdc" stroke-width="0.6"/>
<line x1="412.20" y1="302.00" x2="425.20" y2="302.00" stroke="#ff4646" stroke-width="1.2" stroke-opacity="0.8"/>
<text class="lg" x="430.20" y="304.20">Red</text>
<line x1="412.20" y1="310.25" x2="425.20" y2="310.25" stroke="#46a246" stroke-width="1.2" stroke-opacity="0.8"/>
<text class="lg" x="430.20" y="312.45">Green</text>
<line x1="412.20" y1="318.50" x2="425.20" y2="318.50" stroke="#4040ff" stroke-width="1.2" stroke-opacity="0.8"/>
<text class="lg" x="430.20" y="320.70">Blue</text>
</g>
<text class="cap" x="80.9" y="200.4" text-anchor="middle">(a) Input(7.22/875)</text>
<text class="cap" x="268.2" y="200.4" text-anchor="middle">(b) KinD++(15.05/221)</text>
<text class="cap" x="479.6" y="200.4" text-anchor="middle">(c) DCCNet(20.50/<tspan fill="#0a0aff">178</tspan>)</text>
<text class="cap" x="80.45" y="408.1" text-anchor="middle">(d) LLFlow(<tspan fill="#0a0aff">25.36</tspan>/205)</text>
<text class="cap" x="269.4" y="408.1" text-anchor="middle">(e) Ours(<tspan fill="#f01018">26.50</tspan>/<tspan fill="#f01018">148</tspan>)</text>
<text class="cap" x="477.6" y="408.1" text-anchor="middle">(f) Reference(inf/0)</text>
</svg></body></html>
